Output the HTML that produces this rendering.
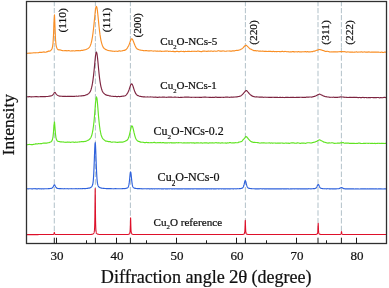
<!DOCTYPE html>
<html><head><meta charset="utf-8"><title>XRD patterns</title>
<style>
html,body{margin:0;padding:0;background:#fff;}
svg{display:block}
text{font-family:"Liberation Serif",serif;fill:#111;stroke:#111;stroke-width:0.22px}
</style></head><body>
<svg width="389" height="288" viewBox="0 0 389 288">
<rect x="0" y="0" width="389" height="288" fill="#fff"/>

<g stroke="#b6c4cc" stroke-width="1.05" fill="none">
<line x1="54.3" y1="0.9" x2="54.3" y2="47.3" stroke-dasharray="5.3 1.7"/>
<line x1="54.3" y1="47.5" x2="54.3" y2="234" stroke-dasharray="5.5 2.25"/>
<line x1="95.4" y1="0.9" x2="95.4" y2="47.3" stroke-dasharray="5.3 1.7"/>
<line x1="95.4" y1="47.5" x2="95.4" y2="234" stroke-dasharray="5.5 2.25"/>
<line x1="130.4" y1="0.9" x2="130.4" y2="47.3" stroke-dasharray="5.3 1.7"/>
<line x1="130.4" y1="47.5" x2="130.4" y2="234" stroke-dasharray="5.5 2.25"/>
<line x1="245.4" y1="0.9" x2="245.4" y2="47.3" stroke-dasharray="5.3 1.7"/>
<line x1="245.4" y1="47.5" x2="245.4" y2="234" stroke-dasharray="5.5 2.25"/>
<line x1="318.0" y1="0.9" x2="318.0" y2="47.3" stroke-dasharray="5.3 1.7"/>
<line x1="318.0" y1="47.5" x2="318.0" y2="234" stroke-dasharray="5.5 2.25"/>
<line x1="341.4" y1="0.9" x2="341.4" y2="47.3" stroke-dasharray="5.3 1.7"/>
<line x1="341.4" y1="47.5" x2="341.4" y2="234" stroke-dasharray="5.5 2.25"/>
</g>
<path d="M26.50,53.41 L27.00,53.38 L27.50,53.26 L28.00,53.21 L28.50,53.17 L29.00,53.11 L29.50,53.01 L30.00,53.06 L30.50,53.08 L31.00,53.13 L31.50,53.01 L32.00,52.98 L32.50,52.97 L33.00,52.94 L33.50,52.76 L34.00,52.79 L34.50,52.79 L35.00,52.89 L35.50,52.70 L36.00,52.78 L36.50,52.74 L37.00,52.80 L37.50,52.79 L38.00,52.75 L38.50,52.63 L39.00,52.42 L39.50,52.22 L40.00,52.37 L40.50,52.33 L41.00,52.41 L41.50,52.38 L42.00,52.25 L42.50,52.30 L43.00,52.03 L43.50,52.06 L44.00,51.89 L44.50,52.10 L45.00,52.24 L45.50,52.23 L46.00,52.10 L46.50,51.87 L47.00,51.84 L47.50,51.62 L48.00,51.39 L48.50,51.08 L49.00,51.01 L49.50,51.12 L50.00,51.05 L50.50,50.68 L51.00,50.25 L51.50,49.65 L52.00,48.77 L52.50,46.97 L53.00,43.34 L53.50,35.33 L54.00,21.47 L54.50,14.94 L55.00,27.34 L55.50,39.14 L56.00,44.84 L56.50,47.21 L57.00,48.30 L57.50,49.11 L58.00,49.62 L58.50,49.82 L59.00,49.76 L59.50,49.81 L60.00,49.92 L60.50,50.02 L61.00,50.30 L61.50,50.37 L62.00,50.52 L62.50,50.56 L63.00,50.74 L63.50,50.75 L64.00,50.70 L64.50,50.67 L65.00,50.70 L65.50,50.56 L66.00,50.58 L66.50,50.68 L67.00,50.86 L67.50,50.76 L68.00,50.69 L68.50,50.63 L69.00,50.68 L69.50,50.81 L70.00,50.97 L70.50,51.05 L71.00,51.00 L71.50,50.94 L72.00,50.90 L72.50,50.85 L73.00,50.75 L73.50,50.75 L74.00,50.92 L74.50,51.04 L75.00,51.01 L75.50,50.79 L76.00,50.65 L76.50,50.69 L77.00,50.73 L77.50,50.67 L78.00,50.65 L78.50,50.56 L79.00,50.74 L79.50,50.68 L80.00,50.82 L80.50,50.63 L81.00,50.55 L81.50,50.39 L82.00,50.44 L82.50,50.44 L83.00,50.25 L83.50,50.09 L84.00,49.95 L84.50,49.90 L85.00,49.71 L85.50,49.69 L86.00,49.53 L86.50,49.32 L87.00,49.01 L87.50,48.78 L88.00,48.51 L88.50,48.13 L89.00,47.66 L89.50,47.06 L90.00,46.25 L90.50,45.17 L91.00,43.70 L91.50,41.80 L92.00,39.43 L92.50,36.61 L93.00,33.04 L93.50,28.79 L94.00,24.07 L94.50,18.99 L95.00,13.97 L95.50,9.65 L96.00,6.84 L96.50,6.32 L97.00,7.90 L97.50,11.44 L98.00,16.03 L98.50,21.15 L99.00,26.19 L99.50,30.74 L100.00,34.68 L100.50,37.87 L101.00,40.60 L101.50,42.60 L102.00,44.36 L102.50,45.68 L103.00,46.88 L103.50,47.78 L104.00,48.20 L104.50,48.65 L105.00,49.00 L105.50,49.51 L106.00,49.66 L106.50,49.83 L107.00,50.10 L107.50,50.24 L108.00,50.40 L108.50,50.49 L109.00,50.67 L109.50,50.80 L110.00,50.73 L110.50,50.82 L111.00,50.80 L111.50,50.97 L112.00,51.09 L112.50,51.25 L113.00,51.19 L113.50,51.20 L114.00,51.21 L114.50,51.33 L115.00,51.25 L115.50,51.22 L116.00,51.14 L116.50,51.26 L117.00,51.22 L117.50,51.34 L118.00,51.30 L118.50,51.11 L119.00,50.89 L119.50,50.90 L120.00,50.99 L120.50,51.13 L121.00,51.05 L121.50,50.96 L122.00,50.90 L122.50,50.74 L123.00,50.56 L123.50,50.54 L124.00,50.33 L124.50,50.38 L125.00,50.11 L125.50,50.01 L126.00,49.52 L126.50,49.10 L127.00,48.44 L127.50,47.78 L128.00,46.82 L128.50,45.95 L129.00,44.87 L129.50,43.62 L130.00,42.12 L130.50,40.72 L131.00,39.45 L131.50,38.78 L132.00,38.75 L132.50,39.35 L133.00,40.43 L133.50,41.64 L134.00,42.99 L134.50,44.29 L135.00,45.51 L135.50,46.63 L136.00,47.50 L136.50,48.33 L137.00,48.81 L137.50,49.19 L138.00,49.28 L138.50,49.53 L139.00,49.77 L139.50,49.92 L140.00,50.01 L140.50,50.11 L141.00,50.24 L141.50,50.28 L142.00,50.37 L142.50,50.44 L143.00,50.56 L143.50,50.63 L144.00,50.75 L144.50,50.73 L145.00,50.64 L145.50,50.61 L146.00,50.65 L146.50,50.58 L147.00,50.68 L147.50,50.72 L148.00,50.94 L148.50,50.78 L149.00,50.89 L149.50,50.81 L150.00,50.91 L150.50,50.73 L151.00,50.78 L151.50,50.79 L152.00,50.90 L152.50,50.96 L153.00,50.99 L153.50,51.10 L154.00,51.04 L154.50,50.98 L155.00,50.92 L155.50,51.01 L156.00,51.19 L156.50,51.27 L157.00,51.10 L157.50,51.05 L158.00,51.11 L158.50,51.26 L159.00,51.20 L159.50,51.13 L160.00,51.10 L160.50,51.19 L161.00,51.18 L161.50,51.33 L162.00,51.33 L162.50,51.29 L163.00,51.24 L163.50,51.29 L164.00,51.31 L164.50,51.24 L165.00,51.01 L165.50,51.13 L166.00,51.12 L166.50,51.15 L167.00,50.96 L167.50,50.99 L168.00,51.22 L168.50,51.35 L169.00,51.42 L169.50,51.29 L170.00,51.20 L170.50,51.24 L171.00,51.37 L171.50,51.48 L172.00,51.52 L172.50,51.42 L173.00,51.40 L173.50,51.38 L174.00,51.60 L174.50,51.64 L175.00,51.70 L175.50,51.53 L176.00,51.56 L176.50,51.43 L177.00,51.36 L177.50,51.37 L178.00,51.46 L178.50,51.57 L179.00,51.56 L179.50,51.60 L180.00,51.53 L180.50,51.42 L181.00,51.26 L181.50,51.26 L182.00,51.47 L182.50,51.53 L183.00,51.55 L183.50,51.40 L184.00,51.59 L184.50,51.60 L185.00,51.59 L185.50,51.39 L186.00,51.48 L186.50,51.55 L187.00,51.46 L187.50,51.32 L188.00,51.34 L188.50,51.40 L189.00,51.36 L189.50,51.40 L190.00,51.45 L190.50,51.55 L191.00,51.44 L191.50,51.40 L192.00,51.36 L192.50,51.27 L193.00,51.27 L193.50,51.21 L194.00,51.34 L194.50,51.20 L195.00,51.30 L195.50,51.25 L196.00,51.49 L196.50,51.41 L197.00,51.31 L197.50,51.12 L198.00,51.11 L198.50,51.17 L199.00,51.25 L199.50,51.38 L200.00,51.55 L200.50,51.45 L201.00,51.59 L201.50,51.61 L202.00,51.64 L202.50,51.27 L203.00,51.11 L203.50,51.12 L204.00,51.12 L204.50,51.12 L205.00,51.10 L205.50,51.20 L206.00,51.24 L206.50,51.33 L207.00,51.34 L207.50,51.31 L208.00,51.18 L208.50,51.15 L209.00,51.13 L209.50,51.21 L210.00,51.22 L210.50,51.05 L211.00,51.05 L211.50,50.96 L212.00,51.13 L212.50,51.21 L213.00,51.33 L213.50,51.22 L214.00,50.97 L214.50,51.05 L215.00,51.14 L215.50,51.28 L216.00,51.25 L216.50,51.24 L217.00,51.17 L217.50,51.03 L218.00,50.79 L218.50,50.69 L219.00,50.75 L219.50,50.96 L220.00,51.10 L220.50,51.09 L221.00,51.12 L221.50,51.15 L222.00,51.09 L222.50,51.05 L223.00,50.87 L223.50,51.01 L224.00,51.03 L224.50,51.18 L225.00,51.22 L225.50,51.30 L226.00,51.25 L226.50,51.19 L227.00,51.00 L227.50,51.03 L228.00,50.97 L228.50,50.95 L229.00,51.01 L229.50,50.94 L230.00,51.10 L230.50,50.96 L231.00,51.08 L231.50,51.11 L232.00,51.06 L232.50,50.86 L233.00,50.73 L233.50,50.83 L234.00,50.89 L234.50,50.83 L235.00,50.77 L235.50,50.55 L236.00,50.51 L236.50,50.32 L237.00,50.49 L237.50,50.41 L238.00,50.35 L238.50,50.20 L239.00,50.02 L239.50,49.95 L240.00,49.74 L240.50,49.60 L241.00,49.28 L241.50,49.08 L242.00,48.73 L242.50,48.39 L243.00,47.87 L243.50,47.29 L244.00,46.74 L244.50,46.20 L245.00,45.82 L245.50,45.44 L246.00,45.27 L246.50,45.42 L247.00,45.93 L247.50,46.36 L248.00,46.88 L248.50,47.25 L249.00,47.91 L249.50,48.39 L250.00,48.93 L250.50,49.04 L251.00,49.29 L251.50,49.41 L252.00,49.83 L252.50,50.01 L253.00,50.20 L253.50,50.39 L254.00,50.69 L254.50,50.62 L255.00,50.62 L255.50,50.56 L256.00,50.83 L256.50,50.88 L257.00,50.79 L257.50,50.76 L258.00,50.87 L258.50,51.08 L259.00,51.19 L259.50,51.10 L260.00,51.05 L260.50,51.05 L261.00,51.17 L261.50,51.20 L262.00,51.19 L262.50,51.18 L263.00,51.11 L263.50,51.23 L264.00,51.32 L264.50,51.34 L265.00,51.33 L265.50,51.18 L266.00,51.36 L266.50,51.41 L267.00,51.48 L267.50,51.49 L268.00,51.40 L268.50,51.38 L269.00,51.28 L269.50,51.31 L270.00,51.35 L270.50,51.41 L271.00,51.39 L271.50,51.48 L272.00,51.56 L272.50,51.57 L273.00,51.42 L273.50,51.41 L274.00,51.54 L274.50,51.65 L275.00,51.50 L275.50,51.45 L276.00,51.58 L276.50,51.55 L277.00,51.57 L277.50,51.45 L278.00,51.53 L278.50,51.54 L279.00,51.48 L279.50,51.57 L280.00,51.64 L280.50,51.76 L281.00,51.68 L281.50,51.46 L282.00,51.35 L282.50,51.29 L283.00,51.55 L283.50,51.64 L284.00,51.71 L284.50,51.50 L285.00,51.44 L285.50,51.50 L286.00,51.51 L286.50,51.73 L287.00,51.70 L287.50,51.75 L288.00,51.65 L288.50,51.82 L289.00,51.99 L289.50,51.94 L290.00,51.85 L290.50,51.77 L291.00,51.86 L291.50,51.86 L292.00,51.79 L292.50,51.66 L293.00,51.66 L293.50,51.65 L294.00,51.85 L294.50,51.85 L295.00,51.86 L295.50,51.74 L296.00,51.71 L296.50,51.78 L297.00,51.88 L297.50,51.82 L298.00,51.69 L298.50,51.65 L299.00,51.75 L299.50,51.91 L300.00,51.92 L300.50,51.92 L301.00,51.96 L301.50,51.86 L302.00,51.87 L302.50,51.74 L303.00,51.72 L303.50,51.76 L304.00,51.86 L304.50,51.79 L305.00,51.65 L305.50,51.62 L306.00,51.84 L306.50,51.86 L307.00,51.82 L307.50,51.62 L308.00,51.84 L308.50,51.87 L309.00,52.02 L309.50,51.86 L310.00,51.87 L310.50,51.81 L311.00,51.70 L311.50,51.64 L312.00,51.55 L312.50,51.60 L313.00,51.42 L313.50,51.28 L314.00,51.13 L314.50,51.15 L315.00,51.06 L315.50,50.80 L316.00,50.52 L316.50,50.27 L317.00,50.26 L317.50,50.13 L318.00,50.06 L318.50,49.78 L319.00,49.55 L319.50,49.49 L320.00,49.62 L320.50,49.80 L321.00,49.86 L321.50,50.01 L322.00,50.14 L322.50,50.41 L323.00,50.48 L323.50,50.62 L324.00,50.78 L324.50,51.01 L325.00,51.36 L325.50,51.41 L326.00,51.48 L326.50,51.34 L327.00,51.29 L327.50,51.21 L328.00,51.38 L328.50,51.48 L329.00,51.73 L329.50,51.84 L330.00,51.93 L330.50,51.99 L331.00,51.92 L331.50,52.04 L332.00,51.92 L332.50,51.98 L333.00,51.84 L333.50,51.91 L334.00,51.81 L334.50,51.87 L335.00,51.87 L335.50,51.92 L336.00,51.92 L336.50,51.92 L337.00,51.96 L337.50,51.85 L338.00,51.81 L338.50,51.77 L339.00,51.78 L339.50,51.72 L340.00,51.51 L340.50,51.61 L341.00,51.52 L341.50,51.60 L342.00,51.61 L342.50,51.67 L343.00,51.78 L343.50,51.68 L344.00,51.71 L344.50,51.61 L345.00,51.71 L345.50,51.86 L346.00,52.01 L346.50,52.11 L347.00,51.97 L347.50,51.91 L348.00,51.82 L348.50,51.95 L349.00,52.05 L349.50,52.09 L350.00,52.10 L350.50,52.07 L351.00,52.08 L351.50,52.13 L352.00,52.10 L352.50,52.12 L353.00,52.15 L353.50,52.21 L354.00,52.25 L354.50,52.09 L355.00,52.23 L355.50,52.01 L356.00,51.97 L356.50,51.75 L357.00,52.04 L357.50,52.16 L358.00,52.22 L358.50,52.00 L359.00,52.01 L359.50,52.04 L360.00,52.08 L360.50,51.95 L361.00,51.86 L361.50,51.93 L362.00,52.06 L362.50,52.16 L363.00,52.13 L363.50,51.98 L364.00,51.98 L364.50,51.91 L365.00,52.05 L365.50,52.08 L366.00,52.11 L366.50,52.03 L367.00,52.07 L367.50,52.15 L368.00,52.18 L368.50,51.89 L369.00,51.86 L369.50,51.95 L370.00,52.26 L370.50,52.22 L371.00,52.12 L371.50,52.01 L372.00,52.12 L372.50,52.09 L373.00,52.11 L373.50,51.98 L374.00,52.09 L374.50,51.98 L375.00,52.08 L375.50,52.03 L376.00,52.13 L376.50,52.14 L377.00,52.27 L377.50,52.16 L378.00,52.19 L378.50,52.15 L379.00,52.26 L379.50,52.29 L380.00,52.26 L380.50,52.38 L381.00,52.24 L381.50,52.16 L382.00,52.15 L382.50,52.36 L383.00,52.48 L383.50,52.45 L384.00,52.26 L384.50,52.11 L385.00,52.03 L385.50,52.18 L386.00,52.14 L386.50,52.12" fill="none" stroke="#f98f26" stroke-width="1.15" stroke-linejoin="round"/>
<path d="M26.50,96.81 L27.00,96.79 L27.50,96.80 L28.00,96.85 L28.50,96.81 L29.00,96.68 L29.50,96.59 L30.00,96.68 L30.50,96.70 L31.00,96.84 L31.50,96.84 L32.00,96.84 L32.50,96.76 L33.00,96.75 L33.50,96.78 L34.00,96.81 L34.50,96.69 L35.00,96.72 L35.50,96.67 L36.00,96.63 L36.50,96.55 L37.00,96.61 L37.50,96.80 L38.00,96.81 L38.50,96.72 L39.00,96.71 L39.50,96.73 L40.00,96.77 L40.50,96.62 L41.00,96.55 L41.50,96.63 L42.00,96.65 L42.50,96.66 L43.00,96.56 L43.50,96.63 L44.00,96.62 L44.50,96.66 L45.00,96.58 L45.50,96.60 L46.00,96.51 L46.50,96.51 L47.00,96.54 L47.50,96.55 L48.00,96.44 L48.50,96.26 L49.00,96.22 L49.50,96.19 L50.00,96.16 L50.50,96.05 L51.00,95.85 L51.50,95.71 L52.00,95.46 L52.50,95.17 L53.00,94.64 L53.50,94.00 L54.00,93.21 L54.50,92.52 L55.00,92.45 L55.50,92.97 L56.00,93.76 L56.50,94.33 L57.00,94.87 L57.50,95.23 L58.00,95.54 L58.50,95.74 L59.00,95.93 L59.50,96.10 L60.00,96.16 L60.50,96.21 L61.00,96.19 L61.50,96.20 L62.00,96.28 L62.50,96.32 L63.00,96.35 L63.50,96.38 L64.00,96.40 L64.50,96.41 L65.00,96.31 L65.50,96.33 L66.00,96.37 L66.50,96.45 L67.00,96.41 L67.50,96.37 L68.00,96.36 L68.50,96.39 L69.00,96.42 L69.50,96.42 L70.00,96.39 L70.50,96.41 L71.00,96.42 L71.50,96.40 L72.00,96.41 L72.50,96.43 L73.00,96.49 L73.50,96.44 L74.00,96.39 L74.50,96.28 L75.00,96.31 L75.50,96.20 L76.00,96.22 L76.50,96.15 L77.00,96.26 L77.50,96.25 L78.00,96.20 L78.50,96.06 L79.00,95.99 L79.50,96.00 L80.00,96.03 L80.50,96.01 L81.00,95.92 L81.50,95.85 L82.00,95.84 L82.50,95.75 L83.00,95.68 L83.50,95.62 L84.00,95.59 L84.50,95.46 L85.00,95.28 L85.50,95.08 L86.00,94.93 L86.50,94.78 L87.00,94.68 L87.50,94.33 L88.00,93.98 L88.50,93.61 L89.00,93.21 L89.50,92.61 L90.00,91.86 L90.50,90.91 L91.00,89.68 L91.50,87.98 L92.00,85.82 L92.50,83.13 L93.00,79.79 L93.50,75.89 L94.00,71.27 L94.50,66.12 L95.00,60.76 L95.50,55.98 L96.00,52.79 L96.50,52.06 L97.00,53.80 L97.50,57.65 L98.00,62.56 L98.50,67.99 L99.00,73.08 L99.50,77.60 L100.00,81.30 L100.50,84.35 L101.00,86.79 L101.50,88.71 L102.00,90.19 L102.50,91.42 L103.00,92.31 L103.50,92.97 L104.00,93.41 L104.50,93.89 L105.00,94.30 L105.50,94.64 L106.00,94.87 L106.50,95.15 L107.00,95.27 L107.50,95.37 L108.00,95.36 L108.50,95.57 L109.00,95.71 L109.50,95.86 L110.00,95.89 L110.50,96.03 L111.00,96.13 L111.50,96.20 L112.00,96.29 L112.50,96.30 L113.00,96.30 L113.50,96.40 L114.00,96.46 L114.50,96.52 L115.00,96.39 L115.50,96.42 L116.00,96.50 L116.50,96.57 L117.00,96.61 L117.50,96.57 L118.00,96.46 L118.50,96.44 L119.00,96.52 L119.50,96.62 L120.00,96.58 L120.50,96.52 L121.00,96.42 L121.50,96.39 L122.00,96.24 L122.50,96.19 L123.00,96.12 L123.50,96.08 L124.00,96.01 L124.50,95.95 L125.00,95.82 L125.50,95.52 L126.00,95.06 L126.50,94.53 L127.00,93.91 L127.50,93.20 L128.00,92.31 L128.50,91.23 L129.00,89.90 L129.50,88.40 L130.00,86.84 L130.50,85.35 L131.00,84.31 L131.50,83.86 L132.00,84.08 L132.50,84.86 L133.00,86.14 L133.50,87.72 L134.00,89.36 L134.50,90.84 L135.00,92.12 L135.50,93.14 L136.00,93.97 L136.50,94.61 L137.00,95.09 L137.50,95.42 L138.00,95.60 L138.50,95.79 L139.00,96.06 L139.50,96.25 L140.00,96.34 L140.50,96.40 L141.00,96.51 L141.50,96.58 L142.00,96.66 L142.50,96.74 L143.00,96.84 L143.50,96.78 L144.00,96.81 L144.50,96.83 L145.00,96.92 L145.50,96.97 L146.00,97.03 L146.50,97.02 L147.00,97.02 L147.50,96.93 L148.00,96.97 L148.50,96.98 L149.00,97.03 L149.50,96.98 L150.00,96.95 L150.50,96.93 L151.00,96.99 L151.50,97.02 L152.00,97.04 L152.50,97.04 L153.00,97.08 L153.50,97.18 L154.00,97.23 L154.50,97.19 L155.00,97.13 L155.50,97.07 L156.00,97.11 L156.50,97.24 L157.00,97.33 L157.50,97.38 L158.00,97.34 L158.50,97.21 L159.00,97.13 L159.50,97.05 L160.00,97.19 L160.50,97.28 L161.00,97.27 L161.50,97.22 L162.00,97.17 L162.50,97.18 L163.00,97.16 L163.50,97.10 L164.00,97.17 L164.50,97.16 L165.00,97.25 L165.50,97.21 L166.00,97.29 L166.50,97.32 L167.00,97.28 L167.50,97.21 L168.00,97.16 L168.50,97.15 L169.00,97.16 L169.50,97.13 L170.00,97.19 L170.50,97.17 L171.00,97.16 L171.50,97.18 L172.00,97.30 L172.50,97.23 L173.00,97.27 L173.50,97.25 L174.00,97.29 L174.50,97.16 L175.00,97.14 L175.50,97.18 L176.00,97.25 L176.50,97.27 L177.00,97.28 L177.50,97.28 L178.00,97.27 L178.50,97.32 L179.00,97.40 L179.50,97.46 L180.00,97.43 L180.50,97.34 L181.00,97.37 L181.50,97.39 L182.00,97.42 L182.50,97.26 L183.00,97.27 L183.50,97.22 L184.00,97.25 L184.50,97.15 L185.00,97.17 L185.50,97.19 L186.00,97.18 L186.50,97.17 L187.00,97.16 L187.50,97.17 L188.00,97.16 L188.50,97.13 L189.00,97.12 L189.50,97.21 L190.00,97.20 L190.50,97.30 L191.00,97.32 L191.50,97.31 L192.00,97.28 L192.50,97.21 L193.00,97.22 L193.50,97.20 L194.00,97.21 L194.50,97.30 L195.00,97.36 L195.50,97.32 L196.00,97.27 L196.50,97.25 L197.00,97.35 L197.50,97.26 L198.00,97.30 L198.50,97.23 L199.00,97.42 L199.50,97.34 L200.00,97.31 L200.50,97.24 L201.00,97.32 L201.50,97.36 L202.00,97.24 L202.50,97.22 L203.00,97.15 L203.50,97.21 L204.00,97.13 L204.50,97.12 L205.00,97.10 L205.50,97.11 L206.00,97.17 L206.50,97.22 L207.00,97.25 L207.50,97.21 L208.00,97.21 L208.50,97.27 L209.00,97.38 L209.50,97.39 L210.00,97.38 L210.50,97.38 L211.00,97.43 L211.50,97.48 L212.00,97.42 L212.50,97.35 L213.00,97.34 L213.50,97.42 L214.00,97.51 L214.50,97.33 L215.00,97.25 L215.50,97.02 L216.00,97.16 L216.50,97.18 L217.00,97.33 L217.50,97.29 L218.00,97.34 L218.50,97.32 L219.00,97.38 L219.50,97.34 L220.00,97.37 L220.50,97.34 L221.00,97.32 L221.50,97.25 L222.00,97.26 L222.50,97.28 L223.00,97.32 L223.50,97.32 L224.00,97.32 L224.50,97.27 L225.00,97.22 L225.50,97.15 L226.00,97.16 L226.50,97.18 L227.00,97.16 L227.50,97.17 L228.00,97.16 L228.50,97.21 L229.00,97.23 L229.50,97.31 L230.00,97.26 L230.50,97.25 L231.00,97.07 L231.50,97.11 L232.00,97.13 L232.50,97.23 L233.00,97.15 L233.50,97.07 L234.00,97.04 L234.50,97.04 L235.00,97.07 L235.50,96.93 L236.00,96.95 L236.50,96.91 L237.00,96.92 L237.50,96.76 L238.00,96.63 L238.50,96.52 L239.00,96.46 L239.50,96.33 L240.00,96.14 L240.50,95.94 L241.00,95.75 L241.50,95.36 L242.00,94.92 L242.50,94.34 L243.00,93.88 L243.50,93.28 L244.00,92.72 L244.50,92.08 L245.00,91.51 L245.50,90.93 L246.00,90.62 L246.50,90.61 L247.00,90.91 L247.50,91.37 L248.00,92.02 L248.50,92.61 L249.00,93.36 L249.50,93.79 L250.00,94.37 L250.50,94.71 L251.00,95.28 L251.50,95.56 L252.00,95.96 L252.50,96.07 L253.00,96.41 L253.50,96.48 L254.00,96.67 L254.50,96.70 L255.00,96.86 L255.50,96.96 L256.00,96.90 L256.50,96.90 L257.00,96.91 L257.50,96.98 L258.00,96.99 L258.50,96.96 L259.00,97.07 L259.50,97.07 L260.00,97.11 L260.50,97.16 L261.00,97.12 L261.50,97.17 L262.00,97.13 L262.50,97.18 L263.00,97.27 L263.50,97.32 L264.00,97.29 L264.50,97.20 L265.00,97.17 L265.50,97.23 L266.00,97.25 L266.50,97.30 L267.00,97.31 L267.50,97.28 L268.00,97.30 L268.50,97.35 L269.00,97.36 L269.50,97.34 L270.00,97.30 L270.50,97.39 L271.00,97.44 L271.50,97.41 L272.00,97.36 L272.50,97.24 L273.00,97.24 L273.50,97.24 L274.00,97.34 L274.50,97.43 L275.00,97.42 L275.50,97.33 L276.00,97.31 L276.50,97.31 L277.00,97.40 L277.50,97.39 L278.00,97.43 L278.50,97.45 L279.00,97.48 L279.50,97.43 L280.00,97.44 L280.50,97.38 L281.00,97.41 L281.50,97.45 L282.00,97.49 L282.50,97.44 L283.00,97.42 L283.50,97.45 L284.00,97.56 L284.50,97.50 L285.00,97.47 L285.50,97.41 L286.00,97.37 L286.50,97.42 L287.00,97.42 L287.50,97.43 L288.00,97.33 L288.50,97.44 L289.00,97.50 L289.50,97.50 L290.00,97.42 L290.50,97.40 L291.00,97.46 L291.50,97.38 L292.00,97.40 L292.50,97.35 L293.00,97.39 L293.50,97.33 L294.00,97.38 L294.50,97.49 L295.00,97.51 L295.50,97.50 L296.00,97.38 L296.50,97.40 L297.00,97.41 L297.50,97.37 L298.00,97.32 L298.50,97.32 L299.00,97.30 L299.50,97.31 L300.00,97.30 L300.50,97.29 L301.00,97.29 L301.50,97.26 L302.00,97.37 L302.50,97.33 L303.00,97.37 L303.50,97.34 L304.00,97.44 L304.50,97.44 L305.00,97.43 L305.50,97.39 L306.00,97.24 L306.50,97.15 L307.00,97.07 L307.50,97.11 L308.00,97.20 L308.50,97.14 L309.00,97.12 L309.50,96.99 L310.00,96.97 L310.50,97.01 L311.00,97.03 L311.50,97.13 L312.00,97.05 L312.50,96.92 L313.00,96.67 L313.50,96.60 L314.00,96.49 L314.50,96.37 L315.00,96.12 L315.50,95.94 L316.00,95.72 L316.50,95.41 L317.00,95.14 L317.50,94.89 L318.00,94.67 L318.50,94.42 L319.00,94.25 L319.50,94.19 L320.00,94.27 L320.50,94.49 L321.00,94.68 L321.50,94.93 L322.00,95.11 L322.50,95.47 L323.00,95.67 L323.50,95.97 L324.00,96.07 L324.50,96.34 L325.00,96.52 L325.50,96.62 L326.00,96.70 L326.50,96.68 L327.00,96.90 L327.50,96.95 L328.00,97.02 L328.50,96.97 L329.00,97.08 L329.50,97.26 L330.00,97.38 L330.50,97.30 L331.00,97.25 L331.50,97.28 L332.00,97.30 L332.50,97.31 L333.00,97.20 L333.50,97.18 L334.00,97.26 L334.50,97.34 L335.00,97.42 L335.50,97.39 L336.00,97.40 L336.50,97.44 L337.00,97.41 L337.50,97.33 L338.00,97.19 L338.50,97.21 L339.00,97.16 L339.50,97.09 L340.00,96.97 L340.50,96.94 L341.00,97.00 L341.50,97.04 L342.00,97.03 L342.50,97.01 L343.00,97.01 L343.50,97.06 L344.00,97.15 L344.50,97.23 L345.00,97.33 L345.50,97.29 L346.00,97.24 L346.50,97.32 L347.00,97.36 L347.50,97.47 L348.00,97.45 L348.50,97.49 L349.00,97.42 L349.50,97.41 L350.00,97.39 L350.50,97.43 L351.00,97.43 L351.50,97.44 L352.00,97.45 L352.50,97.43 L353.00,97.41 L353.50,97.42 L354.00,97.40 L354.50,97.38 L355.00,97.38 L355.50,97.39 L356.00,97.45 L356.50,97.38 L357.00,97.43 L357.50,97.49 L358.00,97.62 L358.50,97.60 L359.00,97.51 L359.50,97.49 L360.00,97.43 L360.50,97.59 L361.00,97.56 L361.50,97.64 L362.00,97.47 L362.50,97.44 L363.00,97.38 L363.50,97.49 L364.00,97.57 L364.50,97.61 L365.00,97.49 L365.50,97.52 L366.00,97.47 L366.50,97.63 L367.00,97.66 L367.50,97.75 L368.00,97.72 L368.50,97.57 L369.00,97.66 L369.50,97.62 L370.00,97.73 L370.50,97.57 L371.00,97.56 L371.50,97.46 L372.00,97.49 L372.50,97.49 L373.00,97.56 L373.50,97.64 L374.00,97.66 L374.50,97.66 L375.00,97.60 L375.50,97.67 L376.00,97.63 L376.50,97.69 L377.00,97.50 L377.50,97.49 L378.00,97.46 L378.50,97.54 L379.00,97.72 L379.50,97.82 L380.00,97.76 L380.50,97.57 L381.00,97.45 L381.50,97.60 L382.00,97.70 L382.50,97.72 L383.00,97.58 L383.50,97.49 L384.00,97.35 L384.50,97.35 L385.00,97.41 L385.50,97.57 L386.00,97.58 L386.50,97.56" fill="none" stroke="#7d2440" stroke-width="1.15" stroke-linejoin="round"/>
<path d="M26.50,144.76 L27.00,144.75 L27.50,144.74 L28.00,144.62 L28.50,144.52 L29.00,144.48 L29.50,144.44 L30.00,144.52 L30.50,144.54 L31.00,144.61 L31.50,144.62 L32.00,144.63 L32.50,144.61 L33.00,144.45 L33.50,144.29 L34.00,144.31 L34.50,144.20 L35.00,144.13 L35.50,143.87 L36.00,143.89 L36.50,143.92 L37.00,144.01 L37.50,143.94 L38.00,143.74 L38.50,143.65 L39.00,143.69 L39.50,143.77 L40.00,143.70 L40.50,143.62 L41.00,143.68 L41.50,143.64 L42.00,143.45 L42.50,143.27 L43.00,143.21 L43.50,143.13 L44.00,143.17 L44.50,143.08 L45.00,143.18 L45.50,143.09 L46.00,143.07 L46.50,143.09 L47.00,142.97 L47.50,142.87 L48.00,142.70 L48.50,142.70 L49.00,142.63 L49.50,142.41 L50.00,142.22 L50.50,142.03 L51.00,141.93 L51.50,141.41 L52.00,140.67 L52.50,139.24 L53.00,136.76 L53.50,132.14 L54.00,125.09 L54.50,121.95 L55.00,127.99 L55.50,134.12 L56.00,137.80 L56.50,139.56 L57.00,140.60 L57.50,140.98 L58.00,141.35 L58.50,141.48 L59.00,141.51 L59.50,141.61 L60.00,141.75 L60.50,141.84 L61.00,141.88 L61.50,141.86 L62.00,141.97 L62.50,141.99 L63.00,141.91 L63.50,142.03 L64.00,142.14 L64.50,142.20 L65.00,142.19 L65.50,142.22 L66.00,142.33 L66.50,142.30 L67.00,142.15 L67.50,142.15 L68.00,142.18 L68.50,142.29 L69.00,142.17 L69.50,142.26 L70.00,142.19 L70.50,142.33 L71.00,142.21 L71.50,142.14 L72.00,142.05 L72.50,142.03 L73.00,142.09 L73.50,142.16 L74.00,142.29 L74.50,142.32 L75.00,142.23 L75.50,142.11 L76.00,142.12 L76.50,142.22 L77.00,142.21 L77.50,142.14 L78.00,141.99 L78.50,142.00 L79.00,142.05 L79.50,141.87 L80.00,141.84 L80.50,141.70 L81.00,141.69 L81.50,141.65 L82.00,141.63 L82.50,141.76 L83.00,141.58 L83.50,141.66 L84.00,141.56 L84.50,141.54 L85.00,141.40 L85.50,141.32 L86.00,141.26 L86.50,141.08 L87.00,140.71 L87.50,140.56 L88.00,140.21 L88.50,140.09 L89.00,139.69 L89.50,139.25 L90.00,138.73 L90.50,138.05 L91.00,137.23 L91.50,136.09 L92.00,134.37 L92.50,132.20 L93.00,129.29 L93.50,125.79 L94.00,121.54 L94.50,116.11 L95.00,109.86 L95.50,103.43 L96.00,98.68 L96.50,96.90 L97.00,98.68 L97.50,103.48 L98.00,109.60 L98.50,115.96 L99.00,121.29 L99.50,125.78 L100.00,129.41 L100.50,132.22 L101.00,134.46 L101.50,136.00 L102.00,137.29 L102.50,138.17 L103.00,138.83 L103.50,139.38 L104.00,139.75 L104.50,140.09 L105.00,140.55 L105.50,140.91 L106.00,141.17 L106.50,141.18 L107.00,141.21 L107.50,141.32 L108.00,141.40 L108.50,141.63 L109.00,141.64 L109.50,141.58 L110.00,141.55 L110.50,141.73 L111.00,142.13 L111.50,142.29 L112.00,142.22 L112.50,142.07 L113.00,141.97 L113.50,142.05 L114.00,142.03 L114.50,142.00 L115.00,142.06 L115.50,142.15 L116.00,142.26 L116.50,142.26 L117.00,142.39 L117.50,142.41 L118.00,142.35 L118.50,142.26 L119.00,142.13 L119.50,142.19 L120.00,142.06 L120.50,142.09 L121.00,142.01 L121.50,142.14 L122.00,142.10 L122.50,142.10 L123.00,141.94 L123.50,141.82 L124.00,141.72 L124.50,141.52 L125.00,141.36 L125.50,141.06 L126.00,140.82 L126.50,140.64 L127.00,140.21 L127.50,139.77 L128.00,138.93 L128.50,137.86 L129.00,136.31 L129.50,134.57 L130.00,132.42 L130.50,130.06 L131.00,127.77 L131.50,126.26 L132.00,125.78 L132.50,126.50 L133.00,128.13 L133.50,130.19 L134.00,132.44 L134.50,134.39 L135.00,136.35 L135.50,137.77 L136.00,138.97 L136.50,139.75 L137.00,140.38 L137.50,140.84 L138.00,141.17 L138.50,141.36 L139.00,141.44 L139.50,141.60 L140.00,141.87 L140.50,142.13 L141.00,142.19 L141.50,142.20 L142.00,142.17 L142.50,142.27 L143.00,142.24 L143.50,142.32 L144.00,142.47 L144.50,142.60 L145.00,142.73 L145.50,142.56 L146.00,142.49 L146.50,142.40 L147.00,142.52 L147.50,142.57 L148.00,142.66 L148.50,142.60 L149.00,142.72 L149.50,142.73 L150.00,142.70 L150.50,142.66 L151.00,142.59 L151.50,142.75 L152.00,142.68 L152.50,142.73 L153.00,142.71 L153.50,142.56 L154.00,142.42 L154.50,142.40 L155.00,142.59 L155.50,142.80 L156.00,142.81 L156.50,142.74 L157.00,142.70 L157.50,142.63 L158.00,142.71 L158.50,142.66 L159.00,142.74 L159.50,142.66 L160.00,142.63 L160.50,142.45 L161.00,142.70 L161.50,142.72 L162.00,142.82 L162.50,142.59 L163.00,142.62 L163.50,142.65 L164.00,142.78 L164.50,142.84 L165.00,142.90 L165.50,142.82 L166.00,142.80 L166.50,142.87 L167.00,142.91 L167.50,142.94 L168.00,142.72 L168.50,142.76 L169.00,142.76 L169.50,142.99 L170.00,142.77 L170.50,142.75 L171.00,142.66 L171.50,142.85 L172.00,142.81 L172.50,142.84 L173.00,142.88 L173.50,142.93 L174.00,142.90 L174.50,142.84 L175.00,142.81 L175.50,142.83 L176.00,142.80 L176.50,142.69 L177.00,142.78 L177.50,142.71 L178.00,142.85 L178.50,142.66 L179.00,142.77 L179.50,142.71 L180.00,142.80 L180.50,142.76 L181.00,142.74 L181.50,142.77 L182.00,142.92 L182.50,143.03 L183.00,143.02 L183.50,142.86 L184.00,142.83 L184.50,142.85 L185.00,142.88 L185.50,142.95 L186.00,142.92 L186.50,142.99 L187.00,142.90 L187.50,142.87 L188.00,142.86 L188.50,142.92 L189.00,142.98 L189.50,142.90 L190.00,142.82 L190.50,142.79 L191.00,142.74 L191.50,142.86 L192.00,142.89 L192.50,143.02 L193.00,142.90 L193.50,142.93 L194.00,142.91 L194.50,143.10 L195.00,143.07 L195.50,142.98 L196.00,142.90 L196.50,142.84 L197.00,142.91 L197.50,142.84 L198.00,142.87 L198.50,142.93 L199.00,143.00 L199.50,143.04 L200.00,142.97 L200.50,142.83 L201.00,142.74 L201.50,142.82 L202.00,142.97 L202.50,143.15 L203.00,143.03 L203.50,142.98 L204.00,142.84 L204.50,142.91 L205.00,142.91 L205.50,142.91 L206.00,142.92 L206.50,142.87 L207.00,142.91 L207.50,143.00 L208.00,143.16 L208.50,143.10 L209.00,142.95 L209.50,142.82 L210.00,142.80 L210.50,142.95 L211.00,142.91 L211.50,142.97 L212.00,142.81 L212.50,142.84 L213.00,142.85 L213.50,143.05 L214.00,143.02 L214.50,143.03 L215.00,142.78 L215.50,142.75 L216.00,142.67 L216.50,142.78 L217.00,142.89 L217.50,142.99 L218.00,142.91 L218.50,142.92 L219.00,142.79 L219.50,143.03 L220.00,143.01 L220.50,143.10 L221.00,142.96 L221.50,142.93 L222.00,142.92 L222.50,142.88 L223.00,142.94 L223.50,142.95 L224.00,143.05 L224.50,142.99 L225.00,143.02 L225.50,142.91 L226.00,143.15 L226.50,143.05 L227.00,143.07 L227.50,142.88 L228.00,143.01 L228.50,142.98 L229.00,142.79 L229.50,142.60 L230.00,142.58 L230.50,142.63 L231.00,142.71 L231.50,142.84 L232.00,142.95 L232.50,142.91 L233.00,142.86 L233.50,142.82 L234.00,142.94 L234.50,142.87 L235.00,142.73 L235.50,142.66 L236.00,142.74 L236.50,142.71 L237.00,142.75 L237.50,142.71 L238.00,142.66 L238.50,142.34 L239.00,142.08 L239.50,141.96 L240.00,141.96 L240.50,141.70 L241.00,141.66 L241.50,141.50 L242.00,141.20 L242.50,140.47 L243.00,139.79 L243.50,139.27 L244.00,138.83 L244.50,138.20 L245.00,137.52 L245.50,136.80 L246.00,136.56 L246.50,136.73 L247.00,137.24 L247.50,137.82 L248.00,138.46 L248.50,139.15 L249.00,139.68 L249.50,140.24 L250.00,140.62 L250.50,141.19 L251.00,141.42 L251.50,141.81 L252.00,141.86 L252.50,142.12 L253.00,142.20 L253.50,142.39 L254.00,142.40 L254.50,142.37 L255.00,142.37 L255.50,142.46 L256.00,142.51 L256.50,142.52 L257.00,142.46 L257.50,142.60 L258.00,142.65 L258.50,142.79 L259.00,142.99 L259.50,143.04 L260.00,143.09 L260.50,142.97 L261.00,142.96 L261.50,142.91 L262.00,142.94 L262.50,143.03 L263.00,142.88 L263.50,142.81 L264.00,142.73 L264.50,142.90 L265.00,143.00 L265.50,143.00 L266.00,143.10 L266.50,142.99 L267.00,143.00 L267.50,143.00 L268.00,142.99 L268.50,143.01 L269.00,142.89 L269.50,142.88 L270.00,142.95 L270.50,143.07 L271.00,143.06 L271.50,142.93 L272.00,143.07 L272.50,143.10 L273.00,143.13 L273.50,142.99 L274.00,142.98 L274.50,143.02 L275.00,143.05 L275.50,143.18 L276.00,143.19 L276.50,143.22 L277.00,143.15 L277.50,143.15 L278.00,143.06 L278.50,143.05 L279.00,143.10 L279.50,143.12 L280.00,143.09 L280.50,143.07 L281.00,143.02 L281.50,143.03 L282.00,143.01 L282.50,143.12 L283.00,143.18 L283.50,143.28 L284.00,143.32 L284.50,143.30 L285.00,143.17 L285.50,143.01 L286.00,143.03 L286.50,143.13 L287.00,143.30 L287.50,143.19 L288.00,143.19 L288.50,143.16 L289.00,143.42 L289.50,143.37 L290.00,143.29 L290.50,143.02 L291.00,142.96 L291.50,142.88 L292.00,142.92 L292.50,142.91 L293.00,142.88 L293.50,142.94 L294.00,143.03 L294.50,143.19 L295.00,143.19 L295.50,143.24 L296.00,143.26 L296.50,143.16 L297.00,143.07 L297.50,142.90 L298.00,142.94 L298.50,142.97 L299.00,143.05 L299.50,143.21 L300.00,143.34 L300.50,143.38 L301.00,143.26 L301.50,143.11 L302.00,143.07 L302.50,143.12 L303.00,143.08 L303.50,143.11 L304.00,143.05 L304.50,143.17 L305.00,143.22 L305.50,143.35 L306.00,143.25 L306.50,143.06 L307.00,142.81 L307.50,142.79 L308.00,142.77 L308.50,142.76 L309.00,142.74 L309.50,142.74 L310.00,142.88 L310.50,143.01 L311.00,143.03 L311.50,142.97 L312.00,142.67 L312.50,142.64 L313.00,142.50 L313.50,142.44 L314.00,142.19 L314.50,142.21 L315.00,142.01 L315.50,141.85 L316.00,141.51 L316.50,141.37 L317.00,141.17 L317.50,140.85 L318.00,140.45 L318.50,140.20 L319.00,140.00 L319.50,139.89 L320.00,140.02 L320.50,140.19 L321.00,140.64 L321.50,140.75 L322.00,141.02 L322.50,141.22 L323.00,141.55 L323.50,141.94 L324.00,142.07 L324.50,142.29 L325.00,142.29 L325.50,142.55 L326.00,142.65 L326.50,142.76 L327.00,142.94 L327.50,142.97 L328.00,143.12 L328.50,142.91 L329.00,142.94 L329.50,142.89 L330.00,143.01 L330.50,143.02 L331.00,142.97 L331.50,142.76 L332.00,142.76 L332.50,142.76 L333.00,142.96 L333.50,143.07 L334.00,143.29 L334.50,143.35 L335.00,143.36 L335.50,143.25 L336.00,143.26 L336.50,143.22 L337.00,143.15 L337.50,143.06 L338.00,143.02 L338.50,143.13 L339.00,143.17 L339.50,143.20 L340.00,142.93 L340.50,142.84 L341.00,142.71 L341.50,142.82 L342.00,142.73 L342.50,142.62 L343.00,142.51 L343.50,142.64 L344.00,142.99 L344.50,143.20 L345.00,143.18 L345.50,143.08 L346.00,143.06 L346.50,143.18 L347.00,143.14 L347.50,143.09 L348.00,143.05 L348.50,143.14 L349.00,143.26 L349.50,143.39 L350.00,143.28 L350.50,143.33 L351.00,143.26 L351.50,143.35 L352.00,143.37 L352.50,143.36 L353.00,143.37 L353.50,143.33 L354.00,143.39 L354.50,143.43 L355.00,143.48 L355.50,143.48 L356.00,143.39 L356.50,143.48 L357.00,143.44 L357.50,143.50 L358.00,143.28 L358.50,143.13 L359.00,143.06 L359.50,143.11 L360.00,143.30 L360.50,143.36 L361.00,143.42 L361.50,143.45 L362.00,143.52 L362.50,143.46 L363.00,143.40 L363.50,143.32 L364.00,143.26 L364.50,143.36 L365.00,143.29 L365.50,143.35 L366.00,143.26 L366.50,143.20 L367.00,143.26 L367.50,143.22 L368.00,143.39 L368.50,143.32 L369.00,143.24 L369.50,143.23 L370.00,143.27 L370.50,143.44 L371.00,143.46 L371.50,143.34 L372.00,143.35 L372.50,143.37 L373.00,143.55 L373.50,143.50 L374.00,143.40 L374.50,143.39 L375.00,143.33 L375.50,143.58 L376.00,143.53 L376.50,143.48 L377.00,143.25 L377.50,143.37 L378.00,143.41 L378.50,143.27 L379.00,143.27 L379.50,143.33 L380.00,143.47 L380.50,143.42 L381.00,143.33 L381.50,143.29 L382.00,143.31 L382.50,143.33 L383.00,143.45 L383.50,143.39 L384.00,143.48 L384.50,143.46 L385.00,143.32 L385.50,143.31 L386.00,143.27 L386.50,143.47" fill="none" stroke="#60e322" stroke-width="1.15" stroke-linejoin="round"/>
<path d="M26.50,188.72 L26.75,188.71 L27.00,188.74 L27.25,188.79 L27.50,188.78 L27.75,188.81 L28.00,188.81 L28.25,188.86 L28.50,188.82 L28.75,188.78 L29.00,188.72 L29.25,188.71 L29.50,188.76 L29.75,188.77 L30.00,188.73 L30.25,188.70 L30.50,188.70 L30.75,188.72 L31.00,188.73 L31.25,188.80 L31.50,188.83 L31.75,188.83 L32.00,188.77 L32.25,188.81 L32.50,188.85 L32.75,188.85 L33.00,188.76 L33.25,188.70 L33.50,188.69 L33.75,188.72 L34.00,188.73 L34.25,188.70 L34.50,188.70 L34.75,188.68 L35.00,188.67 L35.25,188.67 L35.50,188.75 L35.75,188.81 L36.00,188.84 L36.25,188.87 L36.50,188.88 L36.75,188.85 L37.00,188.86 L37.25,188.88 L37.50,188.92 L37.75,188.83 L38.00,188.79 L38.25,188.71 L38.50,188.72 L38.75,188.64 L39.00,188.68 L39.25,188.72 L39.50,188.79 L39.75,188.85 L40.00,188.82 L40.25,188.82 L40.50,188.77 L40.75,188.78 L41.00,188.78 L41.25,188.82 L41.50,188.85 L41.75,188.86 L42.00,188.79 L42.25,188.76 L42.50,188.79 L42.75,188.84 L43.00,188.83 L43.25,188.82 L43.50,188.83 L43.75,188.75 L44.00,188.76 L44.25,188.74 L44.50,188.83 L44.75,188.77 L45.00,188.75 L45.25,188.75 L45.50,188.72 L45.75,188.73 L46.00,188.71 L46.25,188.80 L46.50,188.79 L46.75,188.78 L47.00,188.73 L47.25,188.72 L47.50,188.73 L47.75,188.74 L48.00,188.69 L48.25,188.64 L48.50,188.60 L48.75,188.57 L49.00,188.57 L49.25,188.58 L49.50,188.56 L49.75,188.53 L50.00,188.52 L50.25,188.52 L50.50,188.53 L50.75,188.43 L51.00,188.37 L51.25,188.30 L51.50,188.31 L51.75,188.25 L52.00,188.08 L52.25,187.87 L52.50,187.65 L52.75,187.43 L53.00,187.02 L53.25,186.57 L53.50,186.13 L53.75,185.66 L54.00,185.25 L54.25,184.90 L54.50,184.87 L54.75,185.06 L55.00,185.51 L55.25,186.06 L55.50,186.53 L55.75,186.92 L56.00,187.23 L56.25,187.50 L56.50,187.78 L56.75,188.03 L57.00,188.28 L57.25,188.36 L57.50,188.43 L57.75,188.48 L58.00,188.53 L58.25,188.53 L58.50,188.52 L58.75,188.56 L59.00,188.64 L59.25,188.64 L59.50,188.62 L59.75,188.60 L60.00,188.64 L60.25,188.63 L60.50,188.59 L60.75,188.57 L61.00,188.62 L61.25,188.66 L61.50,188.72 L61.75,188.74 L62.00,188.74 L62.25,188.69 L62.50,188.73 L62.75,188.77 L63.00,188.79 L63.25,188.74 L63.50,188.76 L63.75,188.80 L64.00,188.80 L64.25,188.69 L64.50,188.66 L64.75,188.72 L65.00,188.75 L65.25,188.76 L65.50,188.71 L65.75,188.74 L66.00,188.79 L66.25,188.77 L66.50,188.75 L66.75,188.70 L67.00,188.72 L67.25,188.69 L67.50,188.72 L67.75,188.75 L68.00,188.80 L68.25,188.82 L68.50,188.81 L68.75,188.80 L69.00,188.75 L69.25,188.76 L69.50,188.75 L69.75,188.76 L70.00,188.71 L70.25,188.75 L70.50,188.76 L70.75,188.77 L71.00,188.66 L71.25,188.65 L71.50,188.71 L71.75,188.80 L72.00,188.83 L72.25,188.80 L72.50,188.79 L72.75,188.71 L73.00,188.73 L73.25,188.73 L73.50,188.76 L73.75,188.75 L74.00,188.72 L74.25,188.74 L74.50,188.79 L74.75,188.76 L75.00,188.79 L75.25,188.71 L75.50,188.72 L75.75,188.66 L76.00,188.69 L76.25,188.69 L76.50,188.73 L76.75,188.73 L77.00,188.80 L77.25,188.80 L77.50,188.79 L77.75,188.73 L78.00,188.74 L78.25,188.74 L78.50,188.69 L78.75,188.65 L79.00,188.65 L79.25,188.71 L79.50,188.74 L79.75,188.73 L80.00,188.72 L80.25,188.69 L80.50,188.69 L80.75,188.71 L81.00,188.75 L81.25,188.78 L81.50,188.72 L81.75,188.69 L82.00,188.62 L82.25,188.65 L82.50,188.63 L82.75,188.61 L83.00,188.56 L83.25,188.57 L83.50,188.54 L83.75,188.50 L84.00,188.52 L84.25,188.57 L84.50,188.60 L84.75,188.51 L85.00,188.55 L85.25,188.56 L85.50,188.62 L85.75,188.52 L86.00,188.49 L86.25,188.49 L86.50,188.49 L86.75,188.44 L87.00,188.37 L87.25,188.38 L87.50,188.35 L87.75,188.32 L88.00,188.23 L88.25,188.15 L88.50,188.14 L88.75,188.18 L89.00,188.21 L89.25,188.16 L89.50,188.03 L89.75,187.93 L90.00,187.82 L90.25,187.73 L90.50,187.67 L90.75,187.49 L91.00,187.32 L91.25,187.08 L91.50,186.88 L91.75,186.65 L92.00,186.25 L92.25,185.83 L92.50,185.16 L92.75,184.26 L93.00,182.81 L93.25,180.72 L93.50,177.67 L93.75,173.51 L94.00,168.14 L94.25,161.80 L94.50,154.87 L94.75,148.35 L95.00,143.76 L95.25,142.58 L95.50,145.31 L95.75,150.86 L96.00,157.67 L96.25,164.41 L96.50,170.36 L96.75,175.22 L97.00,178.93 L97.25,181.59 L97.50,183.43 L97.75,184.58 L98.00,185.43 L98.25,185.96 L98.50,186.42 L98.75,186.76 L99.00,187.11 L99.25,187.31 L99.50,187.40 L99.75,187.50 L100.00,187.62 L100.25,187.78 L100.50,187.82 L100.75,187.94 L101.00,188.05 L101.25,188.11 L101.50,188.11 L101.75,188.10 L102.00,188.20 L102.25,188.21 L102.50,188.27 L102.75,188.28 L103.00,188.34 L103.25,188.38 L103.50,188.36 L103.75,188.36 L104.00,188.34 L104.25,188.43 L104.50,188.48 L104.75,188.50 L105.00,188.50 L105.25,188.51 L105.50,188.53 L105.75,188.52 L106.00,188.56 L106.25,188.66 L106.50,188.65 L106.75,188.66 L107.00,188.58 L107.25,188.62 L107.50,188.66 L107.75,188.69 L108.00,188.73 L108.25,188.68 L108.50,188.63 L108.75,188.63 L109.00,188.64 L109.25,188.65 L109.50,188.67 L109.75,188.64 L110.00,188.64 L110.25,188.65 L110.50,188.69 L110.75,188.73 L111.00,188.69 L111.25,188.71 L111.50,188.68 L111.75,188.74 L112.00,188.75 L112.25,188.78 L112.50,188.79 L112.75,188.78 L113.00,188.75 L113.25,188.75 L113.50,188.75 L113.75,188.81 L114.00,188.77 L114.25,188.79 L114.50,188.73 L114.75,188.69 L115.00,188.62 L115.25,188.67 L115.50,188.65 L115.75,188.64 L116.00,188.57 L116.25,188.64 L116.50,188.70 L116.75,188.72 L117.00,188.73 L117.25,188.73 L117.50,188.79 L117.75,188.79 L118.00,188.76 L118.25,188.73 L118.50,188.70 L118.75,188.73 L119.00,188.73 L119.25,188.73 L119.50,188.73 L119.75,188.73 L120.00,188.75 L120.25,188.72 L120.50,188.71 L120.75,188.71 L121.00,188.74 L121.25,188.77 L121.50,188.76 L121.75,188.72 L122.00,188.68 L122.25,188.66 L122.50,188.61 L122.75,188.56 L123.00,188.59 L123.25,188.63 L123.50,188.57 L123.75,188.50 L124.00,188.50 L124.25,188.52 L124.50,188.57 L124.75,188.58 L125.00,188.61 L125.25,188.51 L125.50,188.46 L125.75,188.43 L126.00,188.40 L126.25,188.32 L126.50,188.24 L126.75,188.16 L127.00,188.10 L127.25,187.95 L127.50,187.81 L127.75,187.61 L128.00,187.36 L128.25,186.94 L128.50,186.28 L128.75,185.39 L129.00,184.13 L129.25,182.44 L129.50,180.30 L129.75,177.81 L130.00,175.31 L130.25,173.17 L130.50,171.97 L130.75,172.18 L131.00,173.63 L131.25,175.87 L131.50,178.36 L131.75,180.67 L132.00,182.79 L132.25,184.40 L132.50,185.68 L132.75,186.48 L133.00,187.02 L133.25,187.39 L133.50,187.63 L133.75,187.83 L134.00,187.97 L134.25,188.07 L134.50,188.21 L134.75,188.24 L135.00,188.36 L135.25,188.34 L135.50,188.38 L135.75,188.40 L136.00,188.46 L136.25,188.52 L136.50,188.53 L136.75,188.53 L137.00,188.57 L137.25,188.57 L137.50,188.61 L137.75,188.64 L138.00,188.63 L138.25,188.62 L138.50,188.58 L138.75,188.61 L139.00,188.59 L139.25,188.61 L139.50,188.65 L139.75,188.69 L140.00,188.66 L140.25,188.68 L140.50,188.71 L140.75,188.76 L141.00,188.72 L141.25,188.68 L141.50,188.74 L141.75,188.82 L142.00,188.86 L142.25,188.78 L142.50,188.77 L142.75,188.77 L143.00,188.84 L143.25,188.79 L143.50,188.80 L143.75,188.75 L144.00,188.79 L144.25,188.76 L144.50,188.80 L144.75,188.77 L145.00,188.76 L145.25,188.75 L145.50,188.77 L145.75,188.74 L146.00,188.72 L146.25,188.72 L146.50,188.79 L146.75,188.85 L147.00,188.83 L147.25,188.82 L147.50,188.72 L147.75,188.70 L148.00,188.68 L148.25,188.73 L148.50,188.76 L148.75,188.80 L149.00,188.83 L149.25,188.86 L149.50,188.84 L149.75,188.83 L150.00,188.78 L150.25,188.80 L150.50,188.80 L150.75,188.81 L151.00,188.71 L151.25,188.67 L151.50,188.76 L151.75,188.85 L152.00,188.86 L152.25,188.78 L152.50,188.82 L152.75,188.85 L153.00,188.84 L153.25,188.77 L153.50,188.75 L153.75,188.73 L154.00,188.77 L154.25,188.83 L154.50,188.89 L154.75,188.86 L155.00,188.79 L155.25,188.72 L155.50,188.75 L155.75,188.80 L156.00,188.86 L156.25,188.86 L156.50,188.81 L156.75,188.73 L157.00,188.75 L157.25,188.76 L157.50,188.88 L157.75,188.78 L158.00,188.78 L158.25,188.69 L158.50,188.76 L158.75,188.81 L159.00,188.83 L159.25,188.84 L159.50,188.78 L159.75,188.78 L160.00,188.73 L160.25,188.75 L160.50,188.75 L160.75,188.79 L161.00,188.91 L161.25,188.89 L161.50,188.87 L161.75,188.79 L162.00,188.83 L162.25,188.88 L162.50,188.83 L162.75,188.85 L163.00,188.79 L163.25,188.84 L163.50,188.82 L163.75,188.85 L164.00,188.81 L164.25,188.76 L164.50,188.72 L164.75,188.76 L165.00,188.80 L165.25,188.85 L165.50,188.80 L165.75,188.82 L166.00,188.83 L166.25,188.81 L166.50,188.80 L166.75,188.82 L167.00,188.87 L167.25,188.89 L167.50,188.83 L167.75,188.88 L168.00,188.84 L168.25,188.81 L168.50,188.78 L168.75,188.78 L169.00,188.78 L169.25,188.77 L169.50,188.81 L169.75,188.81 L170.00,188.81 L170.25,188.75 L170.50,188.78 L170.75,188.75 L171.00,188.79 L171.25,188.80 L171.50,188.90 L171.75,188.87 L172.00,188.83 L172.25,188.80 L172.50,188.81 L172.75,188.87 L173.00,188.87 L173.25,188.85 L173.50,188.78 L173.75,188.77 L174.00,188.79 L174.25,188.86 L174.50,188.87 L174.75,188.90 L175.00,188.91 L175.25,188.88 L175.50,188.81 L175.75,188.76 L176.00,188.77 L176.25,188.78 L176.50,188.82 L176.75,188.85 L177.00,188.90 L177.25,188.89 L177.50,188.86 L177.75,188.84 L178.00,188.80 L178.25,188.82 L178.50,188.79 L178.75,188.85 L179.00,188.77 L179.25,188.81 L179.50,188.80 L179.75,188.88 L180.00,188.87 L180.25,188.85 L180.50,188.89 L180.75,188.92 L181.00,188.92 L181.25,188.93 L181.50,188.86 L181.75,188.87 L182.00,188.84 L182.25,188.82 L182.50,188.82 L182.75,188.79 L183.00,188.85 L183.25,188.81 L183.50,188.78 L183.75,188.72 L184.00,188.75 L184.25,188.81 L184.50,188.85 L184.75,188.83 L185.00,188.84 L185.25,188.82 L185.50,188.84 L185.75,188.84 L186.00,188.85 L186.25,188.80 L186.50,188.80 L186.75,188.80 L187.00,188.84 L187.25,188.86 L187.50,188.84 L187.75,188.87 L188.00,188.84 L188.25,188.93 L188.50,188.86 L188.75,188.86 L189.00,188.80 L189.25,188.88 L189.50,188.87 L189.75,188.84 L190.00,188.85 L190.25,188.85 L190.50,188.87 L190.75,188.83 L191.00,188.85 L191.25,188.81 L191.50,188.79 L191.75,188.78 L192.00,188.82 L192.25,188.87 L192.50,188.89 L192.75,188.90 L193.00,188.87 L193.25,188.89 L193.50,188.85 L193.75,188.85 L194.00,188.77 L194.25,188.76 L194.50,188.79 L194.75,188.83 L195.00,188.81 L195.25,188.78 L195.50,188.78 L195.75,188.80 L196.00,188.81 L196.25,188.81 L196.50,188.84 L196.75,188.86 L197.00,188.85 L197.25,188.88 L197.50,188.84 L197.75,188.85 L198.00,188.86 L198.25,188.88 L198.50,188.87 L198.75,188.83 L199.00,188.83 L199.25,188.80 L199.50,188.82 L199.75,188.82 L200.00,188.82 L200.25,188.77 L200.50,188.80 L200.75,188.80 L201.00,188.89 L201.25,188.83 L201.50,188.88 L201.75,188.74 L202.00,188.77 L202.25,188.75 L202.50,188.84 L202.75,188.84 L203.00,188.85 L203.25,188.90 L203.50,188.91 L203.75,188.90 L204.00,188.85 L204.25,188.74 L204.50,188.75 L204.75,188.77 L205.00,188.84 L205.25,188.86 L205.50,188.79 L205.75,188.83 L206.00,188.83 L206.25,188.86 L206.50,188.87 L206.75,188.91 L207.00,188.93 L207.25,188.86 L207.50,188.82 L207.75,188.81 L208.00,188.82 L208.25,188.76 L208.50,188.74 L208.75,188.77 L209.00,188.81 L209.25,188.80 L209.50,188.82 L209.75,188.83 L210.00,188.84 L210.25,188.85 L210.50,188.82 L210.75,188.78 L211.00,188.77 L211.25,188.82 L211.50,188.94 L211.75,188.88 L212.00,188.84 L212.25,188.73 L212.50,188.80 L212.75,188.79 L213.00,188.82 L213.25,188.84 L213.50,188.85 L213.75,188.84 L214.00,188.86 L214.25,188.91 L214.50,188.86 L214.75,188.87 L215.00,188.83 L215.25,188.88 L215.50,188.81 L215.75,188.82 L216.00,188.79 L216.25,188.82 L216.50,188.81 L216.75,188.79 L217.00,188.76 L217.25,188.78 L217.50,188.76 L217.75,188.80 L218.00,188.78 L218.25,188.86 L218.50,188.87 L218.75,188.90 L219.00,188.90 L219.25,188.85 L219.50,188.82 L219.75,188.75 L220.00,188.75 L220.25,188.76 L220.50,188.74 L220.75,188.76 L221.00,188.82 L221.25,188.90 L221.50,188.92 L221.75,188.87 L222.00,188.83 L222.25,188.80 L222.50,188.79 L222.75,188.79 L223.00,188.82 L223.25,188.83 L223.50,188.85 L223.75,188.82 L224.00,188.81 L224.25,188.85 L224.50,188.89 L224.75,188.88 L225.00,188.82 L225.25,188.82 L225.50,188.90 L225.75,188.92 L226.00,188.85 L226.25,188.75 L226.50,188.77 L226.75,188.79 L227.00,188.82 L227.25,188.85 L227.50,188.82 L227.75,188.81 L228.00,188.75 L228.25,188.81 L228.50,188.86 L228.75,188.93 L229.00,188.87 L229.25,188.87 L229.50,188.84 L229.75,188.89 L230.00,188.86 L230.25,188.85 L230.50,188.82 L230.75,188.76 L231.00,188.75 L231.25,188.75 L231.50,188.76 L231.75,188.77 L232.00,188.81 L232.25,188.83 L232.50,188.80 L232.75,188.74 L233.00,188.75 L233.25,188.83 L233.50,188.86 L233.75,188.85 L234.00,188.76 L234.25,188.77 L234.50,188.78 L234.75,188.80 L235.00,188.79 L235.25,188.75 L235.50,188.78 L235.75,188.81 L236.00,188.84 L236.25,188.83 L236.50,188.78 L236.75,188.75 L237.00,188.71 L237.25,188.69 L237.50,188.70 L237.75,188.71 L238.00,188.75 L238.25,188.75 L238.50,188.79 L238.75,188.77 L239.00,188.73 L239.25,188.67 L239.50,188.59 L239.75,188.62 L240.00,188.58 L240.25,188.59 L240.50,188.57 L240.75,188.52 L241.00,188.47 L241.25,188.37 L241.50,188.33 L241.75,188.28 L242.00,188.20 L242.25,188.12 L242.50,187.96 L242.75,187.75 L243.00,187.43 L243.25,187.04 L243.50,186.52 L243.75,185.79 L244.00,184.92 L244.25,183.91 L244.50,182.84 L244.75,181.73 L245.00,180.92 L245.25,180.57 L245.50,180.85 L245.75,181.51 L246.00,182.49 L246.25,183.53 L246.50,184.56 L246.75,185.44 L247.00,186.18 L247.25,186.80 L247.50,187.27 L247.75,187.64 L248.00,187.87 L248.25,188.04 L248.50,188.13 L248.75,188.26 L249.00,188.32 L249.25,188.42 L249.50,188.40 L249.75,188.47 L250.00,188.51 L250.25,188.56 L250.50,188.54 L250.75,188.54 L251.00,188.58 L251.25,188.63 L251.50,188.63 L251.75,188.67 L252.00,188.70 L252.25,188.72 L252.50,188.72 L252.75,188.74 L253.00,188.74 L253.25,188.74 L253.50,188.74 L253.75,188.79 L254.00,188.76 L254.25,188.78 L254.50,188.80 L254.75,188.83 L255.00,188.84 L255.25,188.82 L255.50,188.84 L255.75,188.83 L256.00,188.83 L256.25,188.81 L256.50,188.86 L256.75,188.83 L257.00,188.86 L257.25,188.78 L257.50,188.82 L257.75,188.84 L258.00,188.83 L258.25,188.87 L258.50,188.81 L258.75,188.82 L259.00,188.78 L259.25,188.78 L259.50,188.83 L259.75,188.83 L260.00,188.79 L260.25,188.72 L260.50,188.69 L260.75,188.78 L261.00,188.79 L261.25,188.79 L261.50,188.80 L261.75,188.80 L262.00,188.83 L262.25,188.78 L262.50,188.83 L262.75,188.87 L263.00,188.87 L263.25,188.78 L263.50,188.69 L263.75,188.75 L264.00,188.80 L264.25,188.88 L264.50,188.82 L264.75,188.81 L265.00,188.77 L265.25,188.84 L265.50,188.86 L265.75,188.84 L266.00,188.82 L266.25,188.82 L266.50,188.87 L266.75,188.86 L267.00,188.84 L267.25,188.82 L267.50,188.76 L267.75,188.78 L268.00,188.82 L268.25,188.90 L268.50,188.87 L268.75,188.79 L269.00,188.81 L269.25,188.83 L269.50,188.87 L269.75,188.83 L270.00,188.83 L270.25,188.84 L270.50,188.88 L270.75,188.88 L271.00,188.93 L271.25,188.90 L271.50,188.93 L271.75,188.90 L272.00,188.91 L272.25,188.93 L272.50,188.92 L272.75,188.88 L273.00,188.90 L273.25,188.88 L273.50,188.87 L273.75,188.85 L274.00,188.87 L274.25,188.90 L274.50,188.87 L274.75,188.87 L275.00,188.93 L275.25,188.92 L275.50,188.87 L275.75,188.80 L276.00,188.82 L276.25,188.85 L276.50,188.85 L276.75,188.85 L277.00,188.88 L277.25,188.89 L277.50,188.88 L277.75,188.84 L278.00,188.83 L278.25,188.81 L278.50,188.79 L278.75,188.82 L279.00,188.82 L279.25,188.85 L279.50,188.84 L279.75,188.85 L280.00,188.84 L280.25,188.82 L280.50,188.80 L280.75,188.86 L281.00,188.82 L281.25,188.84 L281.50,188.83 L281.75,188.85 L282.00,188.82 L282.25,188.77 L282.50,188.75 L282.75,188.81 L283.00,188.83 L283.25,188.85 L283.50,188.80 L283.75,188.81 L284.00,188.83 L284.25,188.82 L284.50,188.83 L284.75,188.81 L285.00,188.83 L285.25,188.82 L285.50,188.82 L285.75,188.84 L286.00,188.81 L286.25,188.91 L286.50,188.89 L286.75,188.93 L287.00,188.83 L287.25,188.81 L287.50,188.79 L287.75,188.80 L288.00,188.82 L288.25,188.83 L288.50,188.86 L288.75,188.93 L289.00,188.98 L289.25,188.96 L289.50,188.96 L289.75,188.95 L290.00,188.93 L290.25,188.86 L290.50,188.81 L290.75,188.88 L291.00,188.89 L291.25,188.89 L291.50,188.87 L291.75,188.87 L292.00,188.87 L292.25,188.85 L292.50,188.86 L292.75,188.80 L293.00,188.74 L293.25,188.76 L293.50,188.79 L293.75,188.86 L294.00,188.83 L294.25,188.88 L294.50,188.86 L294.75,188.81 L295.00,188.78 L295.25,188.74 L295.50,188.80 L295.75,188.86 L296.00,188.89 L296.25,188.88 L296.50,188.78 L296.75,188.78 L297.00,188.77 L297.25,188.82 L297.50,188.85 L297.75,188.89 L298.00,188.90 L298.25,188.89 L298.50,188.81 L298.75,188.82 L299.00,188.81 L299.25,188.81 L299.50,188.80 L299.75,188.78 L300.00,188.86 L300.25,188.86 L300.50,188.88 L300.75,188.90 L301.00,188.88 L301.25,188.87 L301.50,188.83 L301.75,188.83 L302.00,188.82 L302.25,188.83 L302.50,188.84 L302.75,188.85 L303.00,188.79 L303.25,188.81 L303.50,188.86 L303.75,188.93 L304.00,188.93 L304.25,188.94 L304.50,188.92 L304.75,188.94 L305.00,188.89 L305.25,188.85 L305.50,188.81 L305.75,188.80 L306.00,188.84 L306.25,188.89 L306.50,188.91 L306.75,188.93 L307.00,188.93 L307.25,188.97 L307.50,188.94 L307.75,188.86 L308.00,188.87 L308.25,188.83 L308.50,188.80 L308.75,188.68 L309.00,188.74 L309.25,188.75 L309.50,188.79 L309.75,188.75 L310.00,188.83 L310.25,188.79 L310.50,188.80 L310.75,188.76 L311.00,188.84 L311.25,188.82 L311.50,188.81 L311.75,188.76 L312.00,188.79 L312.25,188.80 L312.50,188.79 L312.75,188.76 L313.00,188.68 L313.25,188.67 L313.50,188.62 L313.75,188.63 L314.00,188.63 L314.25,188.69 L314.50,188.67 L314.75,188.59 L315.00,188.46 L315.25,188.40 L315.50,188.29 L315.75,188.19 L316.00,188.01 L316.25,187.78 L316.50,187.41 L316.75,186.98 L317.00,186.46 L317.25,185.89 L317.50,185.35 L317.75,184.93 L318.00,184.69 L318.25,184.56 L318.50,184.60 L318.75,184.95 L319.00,185.50 L319.25,186.14 L319.50,186.72 L319.75,187.13 L320.00,187.53 L320.25,187.80 L320.50,188.06 L320.75,188.18 L321.00,188.30 L321.25,188.39 L321.50,188.49 L321.75,188.51 L322.00,188.53 L322.25,188.54 L322.50,188.62 L322.75,188.68 L323.00,188.74 L323.25,188.75 L323.50,188.74 L323.75,188.74 L324.00,188.69 L324.25,188.71 L324.50,188.73 L324.75,188.78 L325.00,188.81 L325.25,188.74 L325.50,188.77 L325.75,188.75 L326.00,188.81 L326.25,188.81 L326.50,188.89 L326.75,188.79 L327.00,188.74 L327.25,188.66 L327.50,188.76 L327.75,188.78 L328.00,188.79 L328.25,188.74 L328.50,188.72 L328.75,188.72 L329.00,188.81 L329.25,188.83 L329.50,188.93 L329.75,188.92 L330.00,188.94 L330.25,188.88 L330.50,188.88 L330.75,188.85 L331.00,188.78 L331.25,188.80 L331.50,188.81 L331.75,188.88 L332.00,188.86 L332.25,188.83 L332.50,188.83 L332.75,188.82 L333.00,188.91 L333.25,188.89 L333.50,188.89 L333.75,188.86 L334.00,188.85 L334.25,188.89 L334.50,188.90 L334.75,188.95 L335.00,188.91 L335.25,188.92 L335.50,188.84 L335.75,188.81 L336.00,188.80 L336.25,188.82 L336.50,188.82 L336.75,188.79 L337.00,188.75 L337.25,188.76 L337.50,188.76 L337.75,188.78 L338.00,188.73 L338.25,188.75 L338.50,188.75 L338.75,188.72 L339.00,188.61 L339.25,188.49 L339.50,188.40 L339.75,188.26 L340.00,188.16 L340.25,188.07 L340.50,187.98 L340.75,187.83 L341.00,187.68 L341.25,187.56 L341.50,187.48 L341.75,187.47 L342.00,187.59 L342.25,187.80 L342.50,188.03 L342.75,188.15 L343.00,188.23 L343.25,188.38 L343.50,188.51 L343.75,188.67 L344.00,188.67 L344.25,188.69 L344.50,188.73 L344.75,188.77 L345.00,188.87 L345.25,188.86 L345.50,188.83 L345.75,188.79 L346.00,188.81 L346.25,188.83 L346.50,188.84 L346.75,188.85 L347.00,188.84 L347.25,188.82 L347.50,188.80 L347.75,188.87 L348.00,188.88 L348.25,188.85 L348.50,188.84 L348.75,188.83 L349.00,188.87 L349.25,188.86 L349.50,188.88 L349.75,188.89 L350.00,188.91 L350.25,188.88 L350.50,188.88 L350.75,188.84 L351.00,188.87 L351.25,188.86 L351.50,188.90 L351.75,188.90 L352.00,188.89 L352.25,188.82 L352.50,188.82 L352.75,188.83 L353.00,188.84 L353.25,188.84 L353.50,188.85 L353.75,188.92 L354.00,188.92 L354.25,188.97 L354.50,188.96 L354.75,188.99 L355.00,188.95 L355.25,188.92 L355.50,188.88 L355.75,188.86 L356.00,188.86 L356.25,188.89 L356.50,188.93 L356.75,188.99 L357.00,189.00 L357.25,188.99 L357.50,188.91 L357.75,188.84 L358.00,188.81 L358.25,188.83 L358.50,188.93 L358.75,189.00 L359.00,189.01 L359.25,189.00 L359.50,188.97 L359.75,188.96 L360.00,188.95 L360.25,188.93 L360.50,188.97 L360.75,188.92 L361.00,188.84 L361.25,188.80 L361.50,188.85 L361.75,188.95 L362.00,188.93 L362.25,188.92 L362.50,188.87 L362.75,188.91 L363.00,188.87 L363.25,188.86 L363.50,188.87 L363.75,188.85 L364.00,188.84 L364.25,188.84 L364.50,188.88 L364.75,188.85 L365.00,188.86 L365.25,188.83 L365.50,188.88 L365.75,188.84 L366.00,188.94 L366.25,188.95 L366.50,188.98 L366.75,188.92 L367.00,188.93 L367.25,188.87 L367.50,188.87 L367.75,188.84 L368.00,188.85 L368.25,188.86 L368.50,188.91 L368.75,188.95 L369.00,188.93 L369.25,188.92 L369.50,188.88 L369.75,188.89 L370.00,188.89 L370.25,188.92 L370.50,188.90 L370.75,188.89 L371.00,188.88 L371.25,188.88 L371.50,188.90 L371.75,188.86 L372.00,188.90 L372.25,188.89 L372.50,188.95 L372.75,188.89 L373.00,188.86 L373.25,188.84 L373.50,188.89 L373.75,188.92 L374.00,188.97 L374.25,188.95 L374.50,188.87 L374.75,188.81 L375.00,188.80 L375.25,188.87 L375.50,188.85 L375.75,188.86 L376.00,188.85 L376.25,188.88 L376.50,188.88 L376.75,188.94 L377.00,188.96 L377.25,189.02 L377.50,188.96 L377.75,188.94 L378.00,188.90 L378.25,188.88 L378.50,188.90 L378.75,188.82 L379.00,188.84 L379.25,188.83 L379.50,188.92 L379.75,188.92 L380.00,188.92 L380.25,188.86 L380.50,188.86 L380.75,188.86 L381.00,188.86 L381.25,188.92 L381.50,188.92 L381.75,188.97 L382.00,188.96 L382.25,188.98 L382.50,188.97 L382.75,188.94 L383.00,188.96 L383.25,188.96 L383.50,188.96 L383.75,188.93 L384.00,188.90 L384.25,188.87 L384.50,188.85 L384.75,188.87 L385.00,188.92 L385.25,188.91 L385.50,188.89 L385.75,188.82 L386.00,188.85 L386.25,188.90 L386.50,188.92" fill="none" stroke="#2f62dc" stroke-width="1.15" stroke-linejoin="round"/>
<path d="M26.50,234.60 L26.60,234.60 L26.70,234.60 L26.80,234.60 L26.90,234.60 L27.00,234.60 L27.10,234.60 L27.20,234.60 L27.30,234.60 L27.40,234.60 L27.50,234.60 L27.60,234.60 L27.70,234.60 L27.80,234.60 L27.90,234.60 L28.00,234.60 L28.10,234.60 L28.20,234.60 L28.30,234.60 L28.40,234.60 L28.50,234.60 L28.60,234.60 L28.70,234.60 L28.80,234.60 L28.90,234.60 L29.00,234.60 L29.10,234.60 L29.20,234.60 L29.30,234.60 L29.40,234.60 L29.50,234.60 L29.60,234.60 L29.70,234.60 L29.80,234.60 L29.90,234.60 L30.00,234.60 L30.10,234.60 L30.20,234.60 L30.30,234.60 L30.40,234.60 L30.50,234.60 L30.60,234.60 L30.70,234.60 L30.80,234.60 L30.90,234.60 L31.00,234.60 L31.10,234.60 L31.20,234.60 L31.30,234.60 L31.40,234.60 L31.50,234.60 L31.60,234.60 L31.70,234.60 L31.80,234.60 L31.90,234.60 L32.00,234.60 L32.10,234.60 L32.20,234.60 L32.30,234.60 L32.40,234.60 L32.50,234.60 L32.60,234.60 L32.70,234.60 L32.80,234.60 L32.90,234.60 L33.00,234.60 L33.10,234.60 L33.20,234.60 L33.30,234.60 L33.40,234.60 L33.50,234.60 L33.60,234.60 L33.70,234.60 L33.80,234.60 L33.90,234.60 L34.00,234.60 L34.10,234.60 L34.20,234.60 L34.30,234.60 L34.40,234.60 L34.50,234.60 L34.60,234.60 L34.70,234.60 L34.80,234.60 L34.90,234.60 L35.00,234.60 L35.10,234.60 L35.20,234.60 L35.30,234.60 L35.40,234.60 L35.50,234.60 L35.60,234.60 L35.70,234.60 L35.80,234.60 L35.90,234.60 L36.00,234.60 L36.10,234.60 L36.20,234.60 L36.30,234.60 L36.40,234.60 L36.50,234.60 L36.60,234.60 L36.70,234.60 L36.80,234.60 L36.90,234.60 L37.00,234.60 L37.10,234.60 L37.20,234.60 L37.30,234.60 L37.40,234.60 L37.50,234.60 L37.60,234.60 L37.70,234.60 L37.80,234.60 L37.90,234.60 L38.00,234.60 L38.10,234.60 L38.20,234.60 L38.30,234.60 L38.40,234.60 L38.50,234.60 L38.60,234.59 L38.70,234.59 L38.80,234.59 L38.90,234.59 L39.00,234.59 L39.10,234.59 L39.20,234.59 L39.30,234.59 L39.40,234.59 L39.50,234.59 L39.60,234.59 L39.70,234.59 L39.80,234.59 L39.90,234.59 L40.00,234.59 L40.10,234.59 L40.20,234.59 L40.30,234.59 L40.40,234.59 L40.50,234.59 L40.60,234.59 L40.70,234.59 L40.80,234.59 L40.90,234.59 L41.00,234.59 L41.10,234.59 L41.20,234.59 L41.30,234.59 L41.40,234.59 L41.50,234.59 L41.60,234.59 L41.70,234.59 L41.80,234.59 L41.90,234.59 L42.00,234.59 L42.10,234.59 L42.20,234.59 L42.30,234.59 L42.40,234.59 L42.50,234.59 L42.60,234.59 L42.70,234.59 L42.80,234.59 L42.90,234.59 L43.00,234.59 L43.10,234.59 L43.20,234.59 L43.30,234.59 L43.40,234.59 L43.50,234.59 L43.60,234.59 L43.70,234.59 L43.80,234.59 L43.90,234.59 L44.00,234.59 L44.10,234.59 L44.20,234.59 L44.30,234.59 L44.40,234.59 L44.50,234.59 L44.60,234.59 L44.70,234.59 L44.80,234.59 L44.90,234.59 L45.00,234.59 L45.10,234.59 L45.20,234.59 L45.30,234.59 L45.40,234.59 L45.50,234.59 L45.60,234.59 L45.70,234.59 L45.80,234.59 L45.90,234.59 L46.00,234.59 L46.10,234.59 L46.20,234.59 L46.30,234.59 L46.40,234.59 L46.50,234.59 L46.60,234.59 L46.70,234.59 L46.80,234.59 L46.90,234.59 L47.00,234.59 L47.10,234.59 L47.20,234.59 L47.30,234.59 L47.40,234.59 L47.50,234.59 L47.60,234.59 L47.70,234.59 L47.80,234.59 L47.90,234.59 L48.00,234.59 L48.10,234.59 L48.20,234.59 L48.30,234.59 L48.40,234.59 L48.50,234.59 L48.60,234.59 L48.70,234.59 L48.80,234.59 L48.90,234.59 L49.00,234.59 L49.10,234.59 L49.20,234.59 L49.30,234.59 L49.40,234.59 L49.50,234.59 L49.60,234.58 L49.70,234.58 L49.80,234.58 L49.90,234.58 L50.00,234.58 L50.10,234.58 L50.20,234.58 L50.30,234.58 L50.40,234.58 L50.50,234.58 L50.60,234.58 L50.70,234.58 L50.80,234.58 L50.90,234.58 L51.00,234.58 L51.10,234.58 L51.20,234.58 L51.30,234.57 L51.40,234.57 L51.50,234.57 L51.60,234.57 L51.70,234.57 L51.80,234.57 L51.90,234.56 L52.00,234.56 L52.10,234.56 L52.20,234.56 L52.30,234.55 L52.40,234.55 L52.50,234.54 L52.60,234.54 L52.70,234.53 L52.80,234.52 L52.90,234.51 L53.00,234.50 L53.10,234.49 L53.20,234.47 L53.30,234.45 L53.40,234.41 L53.50,234.37 L53.60,234.31 L53.70,234.21 L53.80,234.06 L53.90,233.83 L54.00,233.49 L54.10,233.05 L54.20,232.60 L54.30,232.39 L54.40,232.60 L54.50,233.05 L54.60,233.49 L54.70,233.83 L54.80,234.06 L54.90,234.21 L55.00,234.31 L55.10,234.37 L55.20,234.41 L55.30,234.44 L55.40,234.47 L55.50,234.49 L55.60,234.50 L55.70,234.51 L55.80,234.52 L55.90,234.53 L56.00,234.54 L56.10,234.54 L56.20,234.55 L56.30,234.55 L56.40,234.55 L56.50,234.56 L56.60,234.56 L56.70,234.56 L56.80,234.56 L56.90,234.57 L57.00,234.57 L57.10,234.57 L57.20,234.57 L57.30,234.57 L57.40,234.57 L57.50,234.57 L57.60,234.57 L57.70,234.58 L57.80,234.58 L57.90,234.58 L58.00,234.58 L58.10,234.58 L58.20,234.58 L58.30,234.58 L58.40,234.58 L58.50,234.58 L58.60,234.58 L58.70,234.58 L58.80,234.58 L58.90,234.58 L59.00,234.58 L59.10,234.58 L59.20,234.58 L59.30,234.58 L59.40,234.58 L59.50,234.58 L59.60,234.58 L59.70,234.58 L59.80,234.58 L59.90,234.58 L60.00,234.58 L60.10,234.58 L60.20,234.58 L60.30,234.58 L60.40,234.58 L60.50,234.58 L60.60,234.58 L60.70,234.58 L60.80,234.58 L60.90,234.58 L61.00,234.58 L61.10,234.58 L61.20,234.58 L61.30,234.58 L61.40,234.58 L61.50,234.58 L61.60,234.58 L61.70,234.58 L61.80,234.58 L61.90,234.58 L62.00,234.58 L62.10,234.58 L62.20,234.58 L62.30,234.58 L62.40,234.58 L62.50,234.58 L62.60,234.58 L62.70,234.58 L62.80,234.58 L62.90,234.58 L63.00,234.58 L63.10,234.58 L63.20,234.58 L63.30,234.58 L63.40,234.58 L63.50,234.58 L63.60,234.58 L63.70,234.58 L63.80,234.58 L63.90,234.58 L64.00,234.58 L64.10,234.58 L64.20,234.58 L64.30,234.58 L64.40,234.58 L64.50,234.58 L64.60,234.58 L64.70,234.58 L64.80,234.58 L64.90,234.58 L65.00,234.58 L65.10,234.58 L65.20,234.58 L65.30,234.58 L65.40,234.58 L65.50,234.58 L65.60,234.58 L65.70,234.58 L65.80,234.58 L65.90,234.58 L66.00,234.58 L66.10,234.58 L66.20,234.58 L66.30,234.58 L66.40,234.58 L66.50,234.58 L66.60,234.58 L66.70,234.58 L66.80,234.58 L66.90,234.58 L67.00,234.58 L67.10,234.58 L67.20,234.58 L67.30,234.58 L67.40,234.58 L67.50,234.58 L67.60,234.58 L67.70,234.58 L67.80,234.58 L67.90,234.58 L68.00,234.58 L68.10,234.58 L68.20,234.58 L68.30,234.58 L68.40,234.58 L68.50,234.58 L68.60,234.58 L68.70,234.58 L68.80,234.58 L68.90,234.58 L69.00,234.58 L69.10,234.58 L69.20,234.58 L69.30,234.58 L69.40,234.58 L69.50,234.58 L69.60,234.58 L69.70,234.58 L69.80,234.58 L69.90,234.58 L70.00,234.58 L70.10,234.58 L70.20,234.58 L70.30,234.58 L70.40,234.58 L70.50,234.58 L70.60,234.58 L70.70,234.58 L70.80,234.58 L70.90,234.58 L71.00,234.58 L71.10,234.58 L71.20,234.58 L71.30,234.58 L71.40,234.58 L71.50,234.58 L71.60,234.58 L71.70,234.58 L71.80,234.58 L71.90,234.58 L72.00,234.58 L72.10,234.58 L72.20,234.58 L72.30,234.58 L72.40,234.58 L72.50,234.58 L72.60,234.58 L72.70,234.58 L72.80,234.58 L72.90,234.58 L73.00,234.58 L73.10,234.58 L73.20,234.58 L73.30,234.58 L73.40,234.58 L73.50,234.58 L73.60,234.58 L73.70,234.58 L73.80,234.58 L73.90,234.58 L74.00,234.58 L74.10,234.58 L74.20,234.58 L74.30,234.58 L74.40,234.58 L74.50,234.58 L74.60,234.58 L74.70,234.58 L74.80,234.58 L74.90,234.58 L75.00,234.58 L75.10,234.58 L75.20,234.58 L75.30,234.58 L75.40,234.58 L75.50,234.58 L75.60,234.58 L75.70,234.58 L75.80,234.58 L75.90,234.58 L76.00,234.58 L76.10,234.58 L76.20,234.58 L76.30,234.58 L76.40,234.58 L76.50,234.58 L76.60,234.58 L76.70,234.58 L76.80,234.58 L76.90,234.58 L77.00,234.58 L77.10,234.58 L77.20,234.58 L77.30,234.58 L77.40,234.58 L77.50,234.58 L77.60,234.58 L77.70,234.58 L77.80,234.58 L77.90,234.58 L78.00,234.58 L78.10,234.58 L78.20,234.58 L78.30,234.58 L78.40,234.58 L78.50,234.57 L78.60,234.57 L78.70,234.57 L78.80,234.57 L78.90,234.57 L79.00,234.57 L79.10,234.57 L79.20,234.57 L79.30,234.57 L79.40,234.57 L79.50,234.57 L79.60,234.57 L79.70,234.57 L79.80,234.57 L79.90,234.57 L80.00,234.57 L80.10,234.57 L80.20,234.57 L80.30,234.57 L80.40,234.57 L80.50,234.57 L80.60,234.57 L80.70,234.57 L80.80,234.57 L80.90,234.57 L81.00,234.57 L81.10,234.57 L81.20,234.57 L81.30,234.57 L81.40,234.57 L81.50,234.57 L81.60,234.57 L81.70,234.57 L81.80,234.57 L81.90,234.57 L82.00,234.57 L82.10,234.57 L82.20,234.57 L82.30,234.57 L82.40,234.57 L82.50,234.57 L82.60,234.57 L82.70,234.57 L82.80,234.57 L82.90,234.57 L83.00,234.56 L83.10,234.56 L83.20,234.56 L83.30,234.56 L83.40,234.56 L83.50,234.56 L83.60,234.56 L83.70,234.56 L83.80,234.56 L83.90,234.56 L84.00,234.56 L84.10,234.56 L84.20,234.56 L84.30,234.56 L84.40,234.56 L84.50,234.56 L84.60,234.56 L84.70,234.56 L84.80,234.56 L84.90,234.56 L85.00,234.56 L85.10,234.56 L85.20,234.56 L85.30,234.55 L85.40,234.55 L85.50,234.55 L85.60,234.55 L85.70,234.55 L85.80,234.55 L85.90,234.55 L86.00,234.55 L86.10,234.55 L86.20,234.55 L86.30,234.55 L86.40,234.55 L86.50,234.55 L86.60,234.54 L86.70,234.54 L86.80,234.54 L86.90,234.54 L87.00,234.54 L87.10,234.54 L87.20,234.54 L87.30,234.54 L87.40,234.54 L87.50,234.54 L87.60,234.53 L87.70,234.53 L87.80,234.53 L87.90,234.53 L88.00,234.53 L88.10,234.53 L88.20,234.53 L88.30,234.52 L88.40,234.52 L88.50,234.52 L88.60,234.52 L88.70,234.52 L88.80,234.51 L88.90,234.51 L89.00,234.51 L89.10,234.51 L89.20,234.50 L89.30,234.50 L89.40,234.50 L89.50,234.50 L89.60,234.49 L89.70,234.49 L89.80,234.49 L89.90,234.48 L90.00,234.48 L90.10,234.47 L90.20,234.47 L90.30,234.47 L90.40,234.46 L90.50,234.46 L90.60,234.45 L90.70,234.44 L90.80,234.44 L90.90,234.43 L91.00,234.42 L91.10,234.42 L91.20,234.41 L91.30,234.40 L91.40,234.39 L91.50,234.38 L91.60,234.37 L91.70,234.36 L91.80,234.34 L91.90,234.33 L92.00,234.31 L92.10,234.29 L92.20,234.27 L92.30,234.25 L92.40,234.23 L92.50,234.20 L92.60,234.17 L92.70,234.14 L92.80,234.10 L92.90,234.06 L93.00,234.01 L93.10,233.96 L93.20,233.90 L93.30,233.83 L93.40,233.74 L93.50,233.64 L93.60,233.52 L93.70,233.38 L93.80,233.21 L93.90,233.00 L94.00,232.74 L94.10,232.42 L94.20,231.99 L94.30,231.43 L94.40,230.67 L94.50,229.56 L94.60,227.85 L94.70,225.10 L94.80,220.65 L94.90,213.74 L95.00,204.13 L95.10,193.68 L95.20,188.58 L95.30,193.68 L95.40,204.13 L95.50,213.74 L95.60,220.65 L95.70,225.10 L95.80,227.85 L95.90,229.56 L96.00,230.66 L96.10,231.43 L96.20,231.99 L96.30,232.41 L96.40,232.74 L96.50,233.00 L96.60,233.21 L96.70,233.38 L96.80,233.52 L96.90,233.64 L97.00,233.74 L97.10,233.82 L97.20,233.90 L97.30,233.96 L97.40,234.01 L97.50,234.06 L97.60,234.10 L97.70,234.14 L97.80,234.17 L97.90,234.20 L98.00,234.23 L98.10,234.25 L98.20,234.27 L98.30,234.29 L98.40,234.31 L98.50,234.33 L98.60,234.34 L98.70,234.35 L98.80,234.37 L98.90,234.38 L99.00,234.39 L99.10,234.40 L99.20,234.41 L99.30,234.41 L99.40,234.42 L99.50,234.43 L99.60,234.44 L99.70,234.44 L99.80,234.45 L99.90,234.45 L100.00,234.46 L100.10,234.46 L100.20,234.47 L100.30,234.47 L100.40,234.48 L100.50,234.48 L100.60,234.48 L100.70,234.49 L100.80,234.49 L100.90,234.49 L101.00,234.50 L101.10,234.50 L101.20,234.50 L101.30,234.50 L101.40,234.51 L101.50,234.51 L101.60,234.51 L101.70,234.51 L101.80,234.51 L101.90,234.52 L102.00,234.52 L102.10,234.52 L102.20,234.52 L102.30,234.52 L102.40,234.52 L102.50,234.53 L102.60,234.53 L102.70,234.53 L102.80,234.53 L102.90,234.53 L103.00,234.53 L103.10,234.53 L103.20,234.53 L103.30,234.53 L103.40,234.54 L103.50,234.54 L103.60,234.54 L103.70,234.54 L103.80,234.54 L103.90,234.54 L104.00,234.54 L104.10,234.54 L104.20,234.54 L104.30,234.54 L104.40,234.54 L104.50,234.54 L104.60,234.55 L104.70,234.55 L104.80,234.55 L104.90,234.55 L105.00,234.55 L105.10,234.55 L105.20,234.55 L105.30,234.55 L105.40,234.55 L105.50,234.55 L105.60,234.55 L105.70,234.55 L105.80,234.55 L105.90,234.55 L106.00,234.55 L106.10,234.55 L106.20,234.55 L106.30,234.55 L106.40,234.55 L106.50,234.55 L106.60,234.55 L106.70,234.55 L106.80,234.56 L106.90,234.56 L107.00,234.56 L107.10,234.56 L107.20,234.56 L107.30,234.56 L107.40,234.56 L107.50,234.56 L107.60,234.56 L107.70,234.56 L107.80,234.56 L107.90,234.56 L108.00,234.56 L108.10,234.56 L108.20,234.56 L108.30,234.56 L108.40,234.56 L108.50,234.56 L108.60,234.56 L108.70,234.56 L108.80,234.56 L108.90,234.56 L109.00,234.56 L109.10,234.56 L109.20,234.56 L109.30,234.56 L109.40,234.56 L109.50,234.56 L109.60,234.56 L109.70,234.56 L109.80,234.56 L109.90,234.56 L110.00,234.56 L110.10,234.56 L110.20,234.56 L110.30,234.56 L110.40,234.56 L110.50,234.56 L110.60,234.56 L110.70,234.56 L110.80,234.56 L110.90,234.56 L111.00,234.56 L111.10,234.56 L111.20,234.56 L111.30,234.56 L111.40,234.56 L111.50,234.56 L111.60,234.56 L111.70,234.56 L111.80,234.56 L111.90,234.56 L112.00,234.56 L112.10,234.56 L112.20,234.56 L112.30,234.56 L112.40,234.56 L112.50,234.56 L112.60,234.56 L112.70,234.56 L112.80,234.56 L112.90,234.56 L113.00,234.56 L113.10,234.56 L113.20,234.56 L113.30,234.56 L113.40,234.56 L113.50,234.56 L113.60,234.56 L113.70,234.56 L113.80,234.56 L113.90,234.56 L114.00,234.56 L114.10,234.56 L114.20,234.56 L114.30,234.56 L114.40,234.56 L114.50,234.56 L114.60,234.56 L114.70,234.56 L114.80,234.56 L114.90,234.56 L115.00,234.56 L115.10,234.56 L115.20,234.56 L115.30,234.56 L115.40,234.56 L115.50,234.56 L115.60,234.56 L115.70,234.56 L115.80,234.56 L115.90,234.56 L116.00,234.56 L116.10,234.56 L116.20,234.56 L116.30,234.56 L116.40,234.56 L116.50,234.56 L116.60,234.56 L116.70,234.56 L116.80,234.56 L116.90,234.56 L117.00,234.56 L117.10,234.56 L117.20,234.56 L117.30,234.56 L117.40,234.56 L117.50,234.56 L117.60,234.56 L117.70,234.56 L117.80,234.56 L117.90,234.56 L118.00,234.56 L118.10,234.56 L118.20,234.56 L118.30,234.56 L118.40,234.56 L118.50,234.56 L118.60,234.56 L118.70,234.56 L118.80,234.56 L118.90,234.56 L119.00,234.56 L119.10,234.56 L119.20,234.56 L119.30,234.56 L119.40,234.56 L119.50,234.56 L119.60,234.56 L119.70,234.56 L119.80,234.56 L119.90,234.56 L120.00,234.56 L120.10,234.56 L120.20,234.56 L120.30,234.56 L120.40,234.56 L120.50,234.56 L120.60,234.56 L120.70,234.56 L120.80,234.56 L120.90,234.56 L121.00,234.56 L121.10,234.56 L121.20,234.56 L121.30,234.56 L121.40,234.56 L121.50,234.56 L121.60,234.56 L121.70,234.56 L121.80,234.56 L121.90,234.56 L122.00,234.56 L122.10,234.56 L122.20,234.56 L122.30,234.55 L122.40,234.55 L122.50,234.55 L122.60,234.55 L122.70,234.55 L122.80,234.55 L122.90,234.55 L123.00,234.55 L123.10,234.55 L123.20,234.55 L123.30,234.55 L123.40,234.55 L123.50,234.55 L123.60,234.55 L123.70,234.55 L123.80,234.55 L123.90,234.55 L124.00,234.55 L124.10,234.55 L124.20,234.54 L124.30,234.54 L124.40,234.54 L124.50,234.54 L124.60,234.54 L124.70,234.54 L124.80,234.54 L124.90,234.54 L125.00,234.54 L125.10,234.54 L125.20,234.53 L125.30,234.53 L125.40,234.53 L125.50,234.53 L125.60,234.53 L125.70,234.53 L125.80,234.53 L125.90,234.52 L126.00,234.52 L126.10,234.52 L126.20,234.52 L126.30,234.51 L126.40,234.51 L126.50,234.51 L126.60,234.51 L126.70,234.50 L126.80,234.50 L126.90,234.50 L127.00,234.49 L127.10,234.49 L127.20,234.48 L127.30,234.48 L127.40,234.47 L127.50,234.46 L127.60,234.46 L127.70,234.45 L127.80,234.44 L127.90,234.43 L128.00,234.42 L128.10,234.41 L128.20,234.39 L128.30,234.38 L128.40,234.36 L128.50,234.34 L128.60,234.32 L128.70,234.29 L128.80,234.26 L128.90,234.23 L129.00,234.18 L129.10,234.13 L129.20,234.07 L129.30,233.99 L129.40,233.90 L129.50,233.78 L129.60,233.62 L129.70,233.42 L129.80,233.14 L129.90,232.73 L130.00,232.11 L130.10,231.11 L130.20,229.48 L130.30,226.96 L130.40,223.45 L130.50,219.63 L130.60,217.77 L130.70,219.63 L130.80,223.45 L130.90,226.96 L131.00,229.48 L131.10,231.11 L131.20,232.11 L131.30,232.73 L131.40,233.14 L131.50,233.42 L131.60,233.62 L131.70,233.78 L131.80,233.90 L131.90,233.99 L132.00,234.07 L132.10,234.13 L132.20,234.18 L132.30,234.23 L132.40,234.26 L132.50,234.29 L132.60,234.32 L132.70,234.34 L132.80,234.36 L132.90,234.38 L133.00,234.39 L133.10,234.41 L133.20,234.42 L133.30,234.43 L133.40,234.44 L133.50,234.45 L133.60,234.46 L133.70,234.46 L133.80,234.47 L133.90,234.48 L134.00,234.48 L134.10,234.49 L134.20,234.49 L134.30,234.49 L134.40,234.50 L134.50,234.50 L134.60,234.50 L134.70,234.51 L134.80,234.51 L134.90,234.51 L135.00,234.52 L135.10,234.52 L135.20,234.52 L135.30,234.52 L135.40,234.52 L135.50,234.53 L135.60,234.53 L135.70,234.53 L135.80,234.53 L135.90,234.53 L136.00,234.53 L136.10,234.53 L136.20,234.54 L136.30,234.54 L136.40,234.54 L136.50,234.54 L136.60,234.54 L136.70,234.54 L136.80,234.54 L136.90,234.54 L137.00,234.54 L137.10,234.54 L137.20,234.54 L137.30,234.54 L137.40,234.55 L137.50,234.55 L137.60,234.55 L137.70,234.55 L137.80,234.55 L137.90,234.55 L138.00,234.55 L138.10,234.55 L138.20,234.55 L138.30,234.55 L138.40,234.55 L138.50,234.55 L138.60,234.55 L138.70,234.55 L138.80,234.55 L138.90,234.55 L139.00,234.55 L139.10,234.55 L139.20,234.55 L139.30,234.55 L139.40,234.55 L139.50,234.55 L139.60,234.55 L139.70,234.55 L139.80,234.56 L139.90,234.56 L140.00,234.56 L140.10,234.56 L140.20,234.56 L140.30,234.56 L140.40,234.56 L140.50,234.56 L140.60,234.56 L140.70,234.56 L140.80,234.56 L140.90,234.56 L141.00,234.56 L141.10,234.56 L141.20,234.56 L141.30,234.56 L141.40,234.56 L141.50,234.56 L141.60,234.56 L141.70,234.56 L141.80,234.56 L141.90,234.56 L142.00,234.56 L142.10,234.56 L142.20,234.56 L142.30,234.56 L142.40,234.56 L142.50,234.56 L142.60,234.56 L142.70,234.56 L142.80,234.56 L142.90,234.56 L143.00,234.56 L143.10,234.56 L143.20,234.56 L143.30,234.56 L143.40,234.56 L143.50,234.56 L143.60,234.56 L143.70,234.56 L143.80,234.56 L143.90,234.56 L144.00,234.56 L144.10,234.56 L144.20,234.56 L144.30,234.56 L144.40,234.56 L144.50,234.56 L144.60,234.56 L144.70,234.56 L144.80,234.56 L144.90,234.56 L145.00,234.56 L145.10,234.56 L145.20,234.56 L145.30,234.56 L145.40,234.56 L145.50,234.56 L145.60,234.56 L145.70,234.56 L145.80,234.56 L145.90,234.56 L146.00,234.56 L146.10,234.56 L146.20,234.56 L146.30,234.56 L146.40,234.56 L146.50,234.56 L146.60,234.56 L146.70,234.56 L146.80,234.56 L146.90,234.56 L147.00,234.56 L147.10,234.56 L147.20,234.56 L147.30,234.56 L147.40,234.56 L147.50,234.56 L147.60,234.56 L147.70,234.56 L147.80,234.56 L147.90,234.56 L148.00,234.56 L148.10,234.56 L148.20,234.56 L148.30,234.56 L148.40,234.56 L148.50,234.56 L148.60,234.56 L148.70,234.56 L148.80,234.56 L148.90,234.56 L149.00,234.56 L149.10,234.56 L149.20,234.56 L149.30,234.56 L149.40,234.56 L149.50,234.56 L149.60,234.56 L149.70,234.56 L149.80,234.56 L149.90,234.56 L150.00,234.56 L150.10,234.56 L150.20,234.56 L150.30,234.56 L150.40,234.56 L150.50,234.56 L150.60,234.56 L150.70,234.56 L150.80,234.56 L150.90,234.56 L151.00,234.56 L151.10,234.56 L151.20,234.56 L151.30,234.56 L151.40,234.56 L151.50,234.56 L151.60,234.56 L151.70,234.56 L151.80,234.56 L151.90,234.56 L152.00,234.56 L152.10,234.56 L152.20,234.56 L152.30,234.56 L152.40,234.56 L152.50,234.56 L152.60,234.56 L152.70,234.56 L152.80,234.56 L152.90,234.56 L153.00,234.56 L153.10,234.56 L153.20,234.56 L153.30,234.56 L153.40,234.56 L153.50,234.56 L153.60,234.56 L153.70,234.56 L153.80,234.56 L153.90,234.56 L154.00,234.56 L154.10,234.56 L154.20,234.56 L154.30,234.56 L154.40,234.56 L154.50,234.56 L154.60,234.56 L154.70,234.56 L154.80,234.56 L154.90,234.56 L155.00,234.56 L155.10,234.56 L155.20,234.56 L155.30,234.56 L155.40,234.56 L155.50,234.56 L155.60,234.56 L155.70,234.56 L155.80,234.56 L155.90,234.56 L156.00,234.56 L156.10,234.56 L156.20,234.56 L156.30,234.56 L156.40,234.56 L156.50,234.56 L156.60,234.56 L156.70,234.56 L156.80,234.56 L156.90,234.56 L157.00,234.56 L157.10,234.56 L157.20,234.56 L157.30,234.56 L157.40,234.56 L157.50,234.56 L157.60,234.56 L157.70,234.56 L157.80,234.56 L157.90,234.56 L158.00,234.56 L158.10,234.56 L158.20,234.56 L158.30,234.56 L158.40,234.56 L158.50,234.56 L158.60,234.56 L158.70,234.56 L158.80,234.56 L158.90,234.56 L159.00,234.56 L159.10,234.56 L159.20,234.56 L159.30,234.56 L159.40,234.56 L159.50,234.56 L159.60,234.56 L159.70,234.56 L159.80,234.56 L159.90,234.56 L160.00,234.56 L160.10,234.56 L160.20,234.56 L160.30,234.56 L160.40,234.56 L160.50,234.56 L160.60,234.56 L160.70,234.56 L160.80,234.56 L160.90,234.56 L161.00,234.56 L161.10,234.56 L161.20,234.56 L161.30,234.56 L161.40,234.56 L161.50,234.56 L161.60,234.56 L161.70,234.56 L161.80,234.56 L161.90,234.56 L162.00,234.56 L162.10,234.56 L162.20,234.56 L162.30,234.56 L162.40,234.56 L162.50,234.56 L162.60,234.56 L162.70,234.56 L162.80,234.56 L162.90,234.56 L163.00,234.56 L163.10,234.56 L163.20,234.56 L163.30,234.56 L163.40,234.56 L163.50,234.56 L163.60,234.56 L163.70,234.56 L163.80,234.56 L163.90,234.56 L164.00,234.56 L164.10,234.56 L164.20,234.56 L164.30,234.56 L164.40,234.56 L164.50,234.56 L164.60,234.56 L164.70,234.56 L164.80,234.56 L164.90,234.56 L165.00,234.56 L165.10,234.56 L165.20,234.56 L165.30,234.56 L165.40,234.56 L165.50,234.56 L165.60,234.56 L165.70,234.56 L165.80,234.56 L165.90,234.56 L166.00,234.56 L166.10,234.56 L166.20,234.56 L166.30,234.56 L166.40,234.56 L166.50,234.56 L166.60,234.56 L166.70,234.56 L166.80,234.56 L166.90,234.56 L167.00,234.56 L167.10,234.56 L167.20,234.56 L167.30,234.56 L167.40,234.56 L167.50,234.56 L167.60,234.56 L167.70,234.56 L167.80,234.56 L167.90,234.56 L168.00,234.56 L168.10,234.56 L168.20,234.56 L168.30,234.56 L168.40,234.56 L168.50,234.56 L168.60,234.56 L168.70,234.56 L168.80,234.56 L168.90,234.56 L169.00,234.56 L169.10,234.56 L169.20,234.56 L169.30,234.56 L169.40,234.56 L169.50,234.56 L169.60,234.56 L169.70,234.56 L169.80,234.56 L169.90,234.56 L170.00,234.56 L170.10,234.56 L170.20,234.56 L170.30,234.56 L170.40,234.56 L170.50,234.56 L170.60,234.56 L170.70,234.56 L170.80,234.56 L170.90,234.56 L171.00,234.56 L171.10,234.56 L171.20,234.56 L171.30,234.56 L171.40,234.56 L171.50,234.56 L171.60,234.56 L171.70,234.56 L171.80,234.56 L171.90,234.56 L172.00,234.56 L172.10,234.56 L172.20,234.56 L172.30,234.56 L172.40,234.56 L172.50,234.56 L172.60,234.56 L172.70,234.56 L172.80,234.56 L172.90,234.56 L173.00,234.56 L173.10,234.56 L173.20,234.56 L173.30,234.56 L173.40,234.56 L173.50,234.56 L173.60,234.56 L173.70,234.56 L173.80,234.56 L173.90,234.56 L174.00,234.56 L174.10,234.56 L174.20,234.56 L174.30,234.56 L174.40,234.56 L174.50,234.56 L174.60,234.56 L174.70,234.56 L174.80,234.56 L174.90,234.56 L175.00,234.56 L175.10,234.56 L175.20,234.56 L175.30,234.56 L175.40,234.56 L175.50,234.56 L175.60,234.56 L175.70,234.56 L175.80,234.56 L175.90,234.56 L176.00,234.56 L176.10,234.56 L176.20,234.56 L176.30,234.56 L176.40,234.56 L176.50,234.56 L176.60,234.56 L176.70,234.56 L176.80,234.56 L176.90,234.56 L177.00,234.56 L177.10,234.56 L177.20,234.56 L177.30,234.56 L177.40,234.56 L177.50,234.56 L177.60,234.56 L177.70,234.56 L177.80,234.56 L177.90,234.56 L178.00,234.56 L178.10,234.56 L178.20,234.56 L178.30,234.56 L178.40,234.56 L178.50,234.56 L178.60,234.56 L178.70,234.56 L178.80,234.56 L178.90,234.56 L179.00,234.56 L179.10,234.56 L179.20,234.56 L179.30,234.56 L179.40,234.56 L179.50,234.56 L179.60,234.56 L179.70,234.56 L179.80,234.56 L179.90,234.56 L180.00,234.56 L180.10,234.56 L180.20,234.56 L180.30,234.56 L180.40,234.56 L180.50,234.56 L180.60,234.56 L180.70,234.56 L180.80,234.56 L180.90,234.56 L181.00,234.56 L181.10,234.56 L181.20,234.56 L181.30,234.56 L181.40,234.56 L181.50,234.56 L181.60,234.56 L181.70,234.56 L181.80,234.56 L181.90,234.56 L182.00,234.56 L182.10,234.56 L182.20,234.56 L182.30,234.56 L182.40,234.56 L182.50,234.56 L182.60,234.56 L182.70,234.56 L182.80,234.56 L182.90,234.56 L183.00,234.56 L183.10,234.56 L183.20,234.56 L183.30,234.56 L183.40,234.56 L183.50,234.56 L183.60,234.56 L183.70,234.56 L183.80,234.56 L183.90,234.56 L184.00,234.56 L184.10,234.56 L184.20,234.56 L184.30,234.56 L184.40,234.56 L184.50,234.56 L184.60,234.56 L184.70,234.56 L184.80,234.56 L184.90,234.56 L185.00,234.55 L185.10,234.55 L185.20,234.55 L185.30,234.55 L185.40,234.55 L185.50,234.55 L185.60,234.55 L185.70,234.55 L185.80,234.55 L185.90,234.55 L186.00,234.55 L186.10,234.55 L186.20,234.55 L186.30,234.55 L186.40,234.55 L186.50,234.55 L186.60,234.55 L186.70,234.55 L186.80,234.55 L186.90,234.55 L187.00,234.55 L187.10,234.55 L187.20,234.55 L187.30,234.55 L187.40,234.55 L187.50,234.55 L187.60,234.55 L187.70,234.55 L187.80,234.55 L187.90,234.55 L188.00,234.55 L188.10,234.55 L188.20,234.55 L188.30,234.55 L188.40,234.55 L188.50,234.55 L188.60,234.55 L188.70,234.55 L188.80,234.55 L188.90,234.55 L189.00,234.55 L189.10,234.55 L189.20,234.55 L189.30,234.55 L189.40,234.55 L189.50,234.55 L189.60,234.55 L189.70,234.55 L189.80,234.55 L189.90,234.55 L190.00,234.55 L190.10,234.55 L190.20,234.55 L190.30,234.55 L190.40,234.55 L190.50,234.55 L190.60,234.55 L190.70,234.55 L190.80,234.55 L190.90,234.55 L191.00,234.55 L191.10,234.55 L191.20,234.55 L191.30,234.55 L191.40,234.55 L191.50,234.55 L191.60,234.55 L191.70,234.55 L191.80,234.55 L191.90,234.55 L192.00,234.55 L192.10,234.55 L192.20,234.55 L192.30,234.55 L192.40,234.55 L192.50,234.55 L192.60,234.55 L192.70,234.55 L192.80,234.55 L192.90,234.55 L193.00,234.55 L193.10,234.55 L193.20,234.55 L193.30,234.55 L193.40,234.55 L193.50,234.55 L193.60,234.55 L193.70,234.55 L193.80,234.55 L193.90,234.55 L194.00,234.55 L194.10,234.55 L194.20,234.55 L194.30,234.55 L194.40,234.55 L194.50,234.55 L194.60,234.55 L194.70,234.55 L194.80,234.55 L194.90,234.55 L195.00,234.55 L195.10,234.55 L195.20,234.55 L195.30,234.55 L195.40,234.55 L195.50,234.55 L195.60,234.55 L195.70,234.55 L195.80,234.55 L195.90,234.55 L196.00,234.55 L196.10,234.55 L196.20,234.55 L196.30,234.55 L196.40,234.55 L196.50,234.55 L196.60,234.55 L196.70,234.55 L196.80,234.55 L196.90,234.55 L197.00,234.55 L197.10,234.55 L197.20,234.55 L197.30,234.55 L197.40,234.55 L197.50,234.55 L197.60,234.55 L197.70,234.55 L197.80,234.55 L197.90,234.55 L198.00,234.55 L198.10,234.55 L198.20,234.55 L198.30,234.55 L198.40,234.55 L198.50,234.55 L198.60,234.55 L198.70,234.55 L198.80,234.55 L198.90,234.55 L199.00,234.55 L199.10,234.55 L199.20,234.55 L199.30,234.55 L199.40,234.55 L199.50,234.55 L199.60,234.55 L199.70,234.55 L199.80,234.55 L199.90,234.55 L200.00,234.55 L200.10,234.55 L200.20,234.55 L200.30,234.55 L200.40,234.55 L200.50,234.55 L200.60,234.55 L200.70,234.55 L200.80,234.55 L200.90,234.55 L201.00,234.55 L201.10,234.55 L201.20,234.55 L201.30,234.55 L201.40,234.55 L201.50,234.55 L201.60,234.55 L201.70,234.55 L201.80,234.55 L201.90,234.55 L202.00,234.55 L202.10,234.55 L202.20,234.55 L202.30,234.55 L202.40,234.55 L202.50,234.55 L202.60,234.55 L202.70,234.55 L202.80,234.55 L202.90,234.55 L203.00,234.55 L203.10,234.55 L203.20,234.55 L203.30,234.55 L203.40,234.55 L203.50,234.55 L203.60,234.55 L203.70,234.55 L203.80,234.55 L203.90,234.55 L204.00,234.55 L204.10,234.55 L204.20,234.55 L204.30,234.55 L204.40,234.55 L204.50,234.55 L204.60,234.55 L204.70,234.55 L204.80,234.55 L204.90,234.55 L205.00,234.55 L205.10,234.55 L205.20,234.55 L205.30,234.55 L205.40,234.55 L205.50,234.55 L205.60,234.55 L205.70,234.55 L205.80,234.55 L205.90,234.55 L206.00,234.55 L206.10,234.55 L206.20,234.55 L206.30,234.55 L206.40,234.55 L206.50,234.55 L206.60,234.55 L206.70,234.55 L206.80,234.55 L206.90,234.55 L207.00,234.55 L207.10,234.55 L207.20,234.55 L207.30,234.55 L207.40,234.55 L207.50,234.55 L207.60,234.55 L207.70,234.55 L207.80,234.55 L207.90,234.55 L208.00,234.55 L208.10,234.55 L208.20,234.55 L208.30,234.55 L208.40,234.55 L208.50,234.55 L208.60,234.55 L208.70,234.55 L208.80,234.55 L208.90,234.55 L209.00,234.55 L209.10,234.55 L209.20,234.55 L209.30,234.55 L209.40,234.55 L209.50,234.55 L209.60,234.55 L209.70,234.55 L209.80,234.55 L209.90,234.55 L210.00,234.55 L210.10,234.55 L210.20,234.55 L210.30,234.55 L210.40,234.55 L210.50,234.55 L210.60,234.55 L210.70,234.55 L210.80,234.55 L210.90,234.55 L211.00,234.55 L211.10,234.55 L211.20,234.55 L211.30,234.55 L211.40,234.55 L211.50,234.55 L211.60,234.55 L211.70,234.55 L211.80,234.55 L211.90,234.55 L212.00,234.55 L212.10,234.55 L212.20,234.55 L212.30,234.55 L212.40,234.55 L212.50,234.55 L212.60,234.55 L212.70,234.55 L212.80,234.55 L212.90,234.55 L213.00,234.55 L213.10,234.55 L213.20,234.55 L213.30,234.55 L213.40,234.55 L213.50,234.55 L213.60,234.55 L213.70,234.55 L213.80,234.55 L213.90,234.55 L214.00,234.55 L214.10,234.55 L214.20,234.55 L214.30,234.55 L214.40,234.55 L214.50,234.55 L214.60,234.55 L214.70,234.55 L214.80,234.55 L214.90,234.55 L215.00,234.55 L215.10,234.55 L215.20,234.55 L215.30,234.55 L215.40,234.55 L215.50,234.55 L215.60,234.55 L215.70,234.55 L215.80,234.55 L215.90,234.55 L216.00,234.55 L216.10,234.55 L216.20,234.55 L216.30,234.55 L216.40,234.55 L216.50,234.55 L216.60,234.55 L216.70,234.55 L216.80,234.55 L216.90,234.55 L217.00,234.55 L217.10,234.55 L217.20,234.55 L217.30,234.55 L217.40,234.55 L217.50,234.55 L217.60,234.55 L217.70,234.55 L217.80,234.55 L217.90,234.55 L218.00,234.55 L218.10,234.55 L218.20,234.55 L218.30,234.55 L218.40,234.55 L218.50,234.55 L218.60,234.55 L218.70,234.54 L218.80,234.54 L218.90,234.54 L219.00,234.54 L219.10,234.54 L219.20,234.54 L219.30,234.54 L219.40,234.54 L219.50,234.54 L219.60,234.54 L219.70,234.54 L219.80,234.54 L219.90,234.54 L220.00,234.54 L220.10,234.54 L220.20,234.54 L220.30,234.54 L220.40,234.54 L220.50,234.54 L220.60,234.54 L220.70,234.54 L220.80,234.54 L220.90,234.54 L221.00,234.54 L221.10,234.54 L221.20,234.54 L221.30,234.54 L221.40,234.54 L221.50,234.54 L221.60,234.54 L221.70,234.54 L221.80,234.54 L221.90,234.54 L222.00,234.54 L222.10,234.54 L222.20,234.54 L222.30,234.54 L222.40,234.54 L222.50,234.54 L222.60,234.54 L222.70,234.54 L222.80,234.54 L222.90,234.54 L223.00,234.54 L223.10,234.54 L223.20,234.54 L223.30,234.54 L223.40,234.54 L223.50,234.54 L223.60,234.54 L223.70,234.54 L223.80,234.54 L223.90,234.54 L224.00,234.54 L224.10,234.54 L224.20,234.54 L224.30,234.54 L224.40,234.54 L224.50,234.54 L224.60,234.54 L224.70,234.54 L224.80,234.54 L224.90,234.54 L225.00,234.54 L225.10,234.54 L225.20,234.54 L225.30,234.54 L225.40,234.54 L225.50,234.54 L225.60,234.54 L225.70,234.54 L225.80,234.54 L225.90,234.54 L226.00,234.54 L226.10,234.54 L226.20,234.54 L226.30,234.54 L226.40,234.54 L226.50,234.54 L226.60,234.54 L226.70,234.54 L226.80,234.54 L226.90,234.54 L227.00,234.54 L227.10,234.54 L227.20,234.54 L227.30,234.54 L227.40,234.54 L227.50,234.54 L227.60,234.54 L227.70,234.54 L227.80,234.54 L227.90,234.54 L228.00,234.54 L228.10,234.54 L228.20,234.54 L228.30,234.54 L228.40,234.54 L228.50,234.54 L228.60,234.54 L228.70,234.54 L228.80,234.54 L228.90,234.54 L229.00,234.54 L229.10,234.54 L229.20,234.54 L229.30,234.54 L229.40,234.54 L229.50,234.54 L229.60,234.54 L229.70,234.54 L229.80,234.54 L229.90,234.54 L230.00,234.54 L230.10,234.54 L230.20,234.54 L230.30,234.54 L230.40,234.54 L230.50,234.54 L230.60,234.54 L230.70,234.54 L230.80,234.54 L230.90,234.54 L231.00,234.54 L231.10,234.54 L231.20,234.54 L231.30,234.54 L231.40,234.54 L231.50,234.54 L231.60,234.54 L231.70,234.54 L231.80,234.54 L231.90,234.54 L232.00,234.54 L232.10,234.54 L232.20,234.54 L232.30,234.54 L232.40,234.54 L232.50,234.54 L232.60,234.54 L232.70,234.54 L232.80,234.54 L232.90,234.54 L233.00,234.54 L233.10,234.54 L233.20,234.54 L233.30,234.54 L233.40,234.54 L233.50,234.54 L233.60,234.54 L233.70,234.54 L233.80,234.54 L233.90,234.54 L234.00,234.54 L234.10,234.54 L234.20,234.53 L234.30,234.53 L234.40,234.53 L234.50,234.53 L234.60,234.53 L234.70,234.53 L234.80,234.53 L234.90,234.53 L235.00,234.53 L235.10,234.53 L235.20,234.53 L235.30,234.53 L235.40,234.53 L235.50,234.53 L235.60,234.53 L235.70,234.53 L235.80,234.53 L235.90,234.53 L236.00,234.53 L236.10,234.53 L236.20,234.53 L236.30,234.53 L236.40,234.53 L236.50,234.53 L236.60,234.53 L236.70,234.53 L236.80,234.53 L236.90,234.53 L237.00,234.53 L237.10,234.53 L237.20,234.53 L237.30,234.53 L237.40,234.53 L237.50,234.53 L237.60,234.53 L237.70,234.53 L237.80,234.53 L237.90,234.53 L238.00,234.52 L238.10,234.52 L238.20,234.52 L238.30,234.52 L238.40,234.52 L238.50,234.52 L238.60,234.52 L238.70,234.52 L238.80,234.52 L238.90,234.52 L239.00,234.52 L239.10,234.52 L239.20,234.52 L239.30,234.52 L239.40,234.52 L239.50,234.52 L239.60,234.51 L239.70,234.51 L239.80,234.51 L239.90,234.51 L240.00,234.51 L240.10,234.51 L240.20,234.51 L240.30,234.51 L240.40,234.50 L240.50,234.50 L240.60,234.50 L240.70,234.50 L240.80,234.50 L240.90,234.50 L241.00,234.49 L241.10,234.49 L241.20,234.49 L241.30,234.49 L241.40,234.48 L241.50,234.48 L241.60,234.48 L241.70,234.47 L241.80,234.47 L241.90,234.47 L242.00,234.46 L242.10,234.46 L242.20,234.45 L242.30,234.45 L242.40,234.44 L242.50,234.43 L242.60,234.42 L242.70,234.41 L242.80,234.40 L242.90,234.39 L243.00,234.38 L243.10,234.36 L243.20,234.35 L243.30,234.33 L243.40,234.31 L243.50,234.28 L243.60,234.25 L243.70,234.21 L243.80,234.17 L243.90,234.12 L244.00,234.05 L244.10,233.97 L244.20,233.87 L244.30,233.74 L244.40,233.57 L244.50,233.33 L244.60,232.99 L244.70,232.46 L244.80,231.61 L244.90,230.24 L245.00,228.11 L245.10,225.14 L245.20,221.91 L245.30,220.34 L245.40,221.91 L245.50,225.14 L245.60,228.11 L245.70,230.24 L245.80,231.61 L245.90,232.46 L246.00,232.99 L246.10,233.33 L246.20,233.57 L246.30,233.74 L246.40,233.87 L246.50,233.97 L246.60,234.05 L246.70,234.12 L246.80,234.17 L246.90,234.21 L247.00,234.25 L247.10,234.28 L247.20,234.31 L247.30,234.33 L247.40,234.35 L247.50,234.36 L247.60,234.38 L247.70,234.39 L247.80,234.40 L247.90,234.41 L248.00,234.42 L248.10,234.43 L248.20,234.44 L248.30,234.44 L248.40,234.45 L248.50,234.45 L248.60,234.46 L248.70,234.46 L248.80,234.47 L248.90,234.47 L249.00,234.48 L249.10,234.48 L249.20,234.48 L249.30,234.48 L249.40,234.49 L249.50,234.49 L249.60,234.49 L249.70,234.49 L249.80,234.50 L249.90,234.50 L250.00,234.50 L250.10,234.50 L250.20,234.50 L250.30,234.50 L250.40,234.50 L250.50,234.51 L250.60,234.51 L250.70,234.51 L250.80,234.51 L250.90,234.51 L251.00,234.51 L251.10,234.51 L251.20,234.51 L251.30,234.51 L251.40,234.51 L251.50,234.51 L251.60,234.52 L251.70,234.52 L251.80,234.52 L251.90,234.52 L252.00,234.52 L252.10,234.52 L252.20,234.52 L252.30,234.52 L252.40,234.52 L252.50,234.52 L252.60,234.52 L252.70,234.52 L252.80,234.52 L252.90,234.52 L253.00,234.52 L253.10,234.52 L253.20,234.52 L253.30,234.52 L253.40,234.52 L253.50,234.52 L253.60,234.52 L253.70,234.52 L253.80,234.52 L253.90,234.52 L254.00,234.53 L254.10,234.53 L254.20,234.53 L254.30,234.53 L254.40,234.53 L254.50,234.53 L254.60,234.53 L254.70,234.53 L254.80,234.53 L254.90,234.53 L255.00,234.53 L255.10,234.53 L255.20,234.53 L255.30,234.53 L255.40,234.53 L255.50,234.53 L255.60,234.53 L255.70,234.53 L255.80,234.53 L255.90,234.53 L256.00,234.53 L256.10,234.53 L256.20,234.53 L256.30,234.53 L256.40,234.53 L256.50,234.53 L256.60,234.53 L256.70,234.53 L256.80,234.53 L256.90,234.53 L257.00,234.53 L257.10,234.53 L257.20,234.53 L257.30,234.53 L257.40,234.53 L257.50,234.53 L257.60,234.53 L257.70,234.53 L257.80,234.53 L257.90,234.53 L258.00,234.53 L258.10,234.53 L258.20,234.53 L258.30,234.53 L258.40,234.53 L258.50,234.53 L258.60,234.53 L258.70,234.53 L258.80,234.53 L258.90,234.53 L259.00,234.53 L259.10,234.53 L259.20,234.53 L259.30,234.53 L259.40,234.53 L259.50,234.53 L259.60,234.53 L259.70,234.53 L259.80,234.53 L259.90,234.53 L260.00,234.53 L260.10,234.53 L260.20,234.53 L260.30,234.53 L260.40,234.53 L260.50,234.53 L260.60,234.53 L260.70,234.53 L260.80,234.53 L260.90,234.53 L261.00,234.53 L261.10,234.53 L261.20,234.53 L261.30,234.53 L261.40,234.53 L261.50,234.53 L261.60,234.53 L261.70,234.53 L261.80,234.53 L261.90,234.53 L262.00,234.53 L262.10,234.53 L262.20,234.53 L262.30,234.53 L262.40,234.53 L262.50,234.53 L262.60,234.53 L262.70,234.53 L262.80,234.53 L262.90,234.53 L263.00,234.53 L263.10,234.53 L263.20,234.53 L263.30,234.53 L263.40,234.53 L263.50,234.53 L263.60,234.53 L263.70,234.53 L263.80,234.53 L263.90,234.53 L264.00,234.53 L264.10,234.53 L264.20,234.53 L264.30,234.53 L264.40,234.53 L264.50,234.53 L264.60,234.53 L264.70,234.53 L264.80,234.53 L264.90,234.53 L265.00,234.53 L265.10,234.53 L265.20,234.53 L265.30,234.53 L265.40,234.53 L265.50,234.53 L265.60,234.53 L265.70,234.53 L265.80,234.53 L265.90,234.53 L266.00,234.53 L266.10,234.53 L266.20,234.53 L266.30,234.53 L266.40,234.53 L266.50,234.53 L266.60,234.53 L266.70,234.53 L266.80,234.53 L266.90,234.53 L267.00,234.53 L267.10,234.53 L267.20,234.53 L267.30,234.53 L267.40,234.53 L267.50,234.53 L267.60,234.53 L267.70,234.53 L267.80,234.53 L267.90,234.53 L268.00,234.53 L268.10,234.53 L268.20,234.53 L268.30,234.53 L268.40,234.53 L268.50,234.53 L268.60,234.53 L268.70,234.53 L268.80,234.53 L268.90,234.53 L269.00,234.53 L269.10,234.53 L269.20,234.53 L269.30,234.53 L269.40,234.53 L269.50,234.53 L269.60,234.53 L269.70,234.53 L269.80,234.53 L269.90,234.53 L270.00,234.53 L270.10,234.53 L270.20,234.53 L270.30,234.53 L270.40,234.53 L270.50,234.53 L270.60,234.53 L270.70,234.53 L270.80,234.53 L270.90,234.53 L271.00,234.53 L271.10,234.53 L271.20,234.53 L271.30,234.53 L271.40,234.53 L271.50,234.53 L271.60,234.53 L271.70,234.53 L271.80,234.53 L271.90,234.53 L272.00,234.53 L272.10,234.53 L272.20,234.53 L272.30,234.53 L272.40,234.53 L272.50,234.53 L272.60,234.53 L272.70,234.53 L272.80,234.53 L272.90,234.53 L273.00,234.53 L273.10,234.53 L273.20,234.53 L273.30,234.53 L273.40,234.53 L273.50,234.53 L273.60,234.53 L273.70,234.53 L273.80,234.53 L273.90,234.53 L274.00,234.53 L274.10,234.53 L274.20,234.53 L274.30,234.53 L274.40,234.53 L274.50,234.53 L274.60,234.53 L274.70,234.53 L274.80,234.53 L274.90,234.53 L275.00,234.53 L275.10,234.53 L275.20,234.53 L275.30,234.53 L275.40,234.53 L275.50,234.53 L275.60,234.53 L275.70,234.53 L275.80,234.53 L275.90,234.53 L276.00,234.53 L276.10,234.53 L276.20,234.53 L276.30,234.53 L276.40,234.53 L276.50,234.53 L276.60,234.53 L276.70,234.53 L276.80,234.53 L276.90,234.53 L277.00,234.53 L277.10,234.53 L277.20,234.53 L277.30,234.53 L277.40,234.53 L277.50,234.53 L277.60,234.53 L277.70,234.53 L277.80,234.53 L277.90,234.53 L278.00,234.53 L278.10,234.53 L278.20,234.53 L278.30,234.53 L278.40,234.53 L278.50,234.53 L278.60,234.53 L278.70,234.53 L278.80,234.53 L278.90,234.53 L279.00,234.53 L279.10,234.53 L279.20,234.53 L279.30,234.53 L279.40,234.53 L279.50,234.53 L279.60,234.53 L279.70,234.53 L279.80,234.53 L279.90,234.53 L280.00,234.53 L280.10,234.53 L280.20,234.53 L280.30,234.53 L280.40,234.53 L280.50,234.53 L280.60,234.53 L280.70,234.53 L280.80,234.53 L280.90,234.53 L281.00,234.53 L281.10,234.53 L281.20,234.53 L281.30,234.53 L281.40,234.53 L281.50,234.53 L281.60,234.53 L281.70,234.53 L281.80,234.53 L281.90,234.53 L282.00,234.53 L282.10,234.53 L282.20,234.53 L282.30,234.53 L282.40,234.53 L282.50,234.53 L282.60,234.53 L282.70,234.53 L282.80,234.53 L282.90,234.53 L283.00,234.53 L283.10,234.53 L283.20,234.53 L283.30,234.53 L283.40,234.53 L283.50,234.53 L283.60,234.53 L283.70,234.53 L283.80,234.53 L283.90,234.53 L284.00,234.53 L284.10,234.53 L284.20,234.53 L284.30,234.53 L284.40,234.53 L284.50,234.53 L284.60,234.53 L284.70,234.53 L284.80,234.53 L284.90,234.53 L285.00,234.53 L285.10,234.53 L285.20,234.53 L285.30,234.53 L285.40,234.53 L285.50,234.53 L285.60,234.53 L285.70,234.53 L285.80,234.53 L285.90,234.53 L286.00,234.53 L286.10,234.53 L286.20,234.53 L286.30,234.53 L286.40,234.53 L286.50,234.53 L286.60,234.53 L286.70,234.53 L286.80,234.53 L286.90,234.53 L287.00,234.53 L287.10,234.53 L287.20,234.53 L287.30,234.53 L287.40,234.53 L287.50,234.53 L287.60,234.53 L287.70,234.53 L287.80,234.53 L287.90,234.53 L288.00,234.53 L288.10,234.53 L288.20,234.53 L288.30,234.53 L288.40,234.53 L288.50,234.53 L288.60,234.53 L288.70,234.53 L288.80,234.53 L288.90,234.53 L289.00,234.53 L289.10,234.53 L289.20,234.53 L289.30,234.53 L289.40,234.53 L289.50,234.53 L289.60,234.53 L289.70,234.53 L289.80,234.53 L289.90,234.53 L290.00,234.53 L290.10,234.53 L290.20,234.53 L290.30,234.53 L290.40,234.53 L290.50,234.53 L290.60,234.53 L290.70,234.53 L290.80,234.53 L290.90,234.53 L291.00,234.53 L291.10,234.52 L291.20,234.52 L291.30,234.52 L291.40,234.52 L291.50,234.52 L291.60,234.52 L291.70,234.52 L291.80,234.52 L291.90,234.52 L292.00,234.52 L292.10,234.52 L292.20,234.52 L292.30,234.52 L292.40,234.52 L292.50,234.52 L292.60,234.52 L292.70,234.52 L292.80,234.52 L292.90,234.52 L293.00,234.52 L293.10,234.52 L293.20,234.52 L293.30,234.52 L293.40,234.52 L293.50,234.52 L293.60,234.52 L293.70,234.52 L293.80,234.52 L293.90,234.52 L294.00,234.52 L294.10,234.52 L294.20,234.52 L294.30,234.52 L294.40,234.52 L294.50,234.52 L294.60,234.52 L294.70,234.52 L294.80,234.52 L294.90,234.52 L295.00,234.52 L295.10,234.52 L295.20,234.52 L295.30,234.52 L295.40,234.52 L295.50,234.52 L295.60,234.52 L295.70,234.52 L295.80,234.52 L295.90,234.52 L296.00,234.52 L296.10,234.52 L296.20,234.52 L296.30,234.52 L296.40,234.52 L296.50,234.52 L296.60,234.52 L296.70,234.52 L296.80,234.52 L296.90,234.52 L297.00,234.52 L297.10,234.52 L297.20,234.52 L297.30,234.52 L297.40,234.52 L297.50,234.52 L297.60,234.52 L297.70,234.52 L297.80,234.52 L297.90,234.52 L298.00,234.52 L298.10,234.52 L298.20,234.52 L298.30,234.52 L298.40,234.52 L298.50,234.52 L298.60,234.52 L298.70,234.52 L298.80,234.52 L298.90,234.52 L299.00,234.52 L299.10,234.52 L299.20,234.52 L299.30,234.52 L299.40,234.52 L299.50,234.52 L299.60,234.52 L299.70,234.52 L299.80,234.52 L299.90,234.52 L300.00,234.52 L300.10,234.52 L300.20,234.52 L300.30,234.52 L300.40,234.52 L300.50,234.52 L300.60,234.52 L300.70,234.52 L300.80,234.52 L300.90,234.52 L301.00,234.52 L301.10,234.52 L301.20,234.52 L301.30,234.52 L301.40,234.52 L301.50,234.52 L301.60,234.52 L301.70,234.52 L301.80,234.52 L301.90,234.52 L302.00,234.52 L302.10,234.52 L302.20,234.52 L302.30,234.52 L302.40,234.52 L302.50,234.52 L302.60,234.52 L302.70,234.52 L302.80,234.52 L302.90,234.52 L303.00,234.52 L303.10,234.52 L303.20,234.52 L303.30,234.52 L303.40,234.52 L303.50,234.52 L303.60,234.52 L303.70,234.52 L303.80,234.52 L303.90,234.52 L304.00,234.52 L304.10,234.52 L304.20,234.52 L304.30,234.52 L304.40,234.52 L304.50,234.52 L304.60,234.52 L304.70,234.52 L304.80,234.52 L304.90,234.52 L305.00,234.52 L305.10,234.52 L305.20,234.52 L305.30,234.52 L305.40,234.52 L305.50,234.52 L305.60,234.52 L305.70,234.52 L305.80,234.52 L305.90,234.52 L306.00,234.52 L306.10,234.52 L306.20,234.52 L306.30,234.52 L306.40,234.52 L306.50,234.52 L306.60,234.52 L306.70,234.52 L306.80,234.52 L306.90,234.52 L307.00,234.52 L307.10,234.52 L307.20,234.52 L307.30,234.52 L307.40,234.52 L307.50,234.52 L307.60,234.52 L307.70,234.52 L307.80,234.52 L307.90,234.51 L308.00,234.51 L308.10,234.51 L308.20,234.51 L308.30,234.51 L308.40,234.51 L308.50,234.51 L308.60,234.51 L308.70,234.51 L308.80,234.51 L308.90,234.51 L309.00,234.51 L309.10,234.51 L309.20,234.51 L309.30,234.51 L309.40,234.51 L309.50,234.51 L309.60,234.51 L309.70,234.51 L309.80,234.51 L309.90,234.51 L310.00,234.51 L310.10,234.51 L310.20,234.51 L310.30,234.51 L310.40,234.51 L310.50,234.51 L310.60,234.51 L310.70,234.51 L310.80,234.51 L310.90,234.51 L311.00,234.51 L311.10,234.51 L311.20,234.51 L311.30,234.51 L311.40,234.51 L311.50,234.51 L311.60,234.50 L311.70,234.50 L311.80,234.50 L311.90,234.50 L312.00,234.50 L312.10,234.50 L312.20,234.50 L312.30,234.50 L312.40,234.50 L312.50,234.50 L312.60,234.50 L312.70,234.50 L312.80,234.50 L312.90,234.50 L313.00,234.49 L313.10,234.49 L313.20,234.49 L313.30,234.49 L313.40,234.49 L313.50,234.49 L313.60,234.49 L313.70,234.49 L313.80,234.48 L313.90,234.48 L314.00,234.48 L314.10,234.48 L314.20,234.48 L314.30,234.48 L314.40,234.47 L314.50,234.47 L314.60,234.47 L314.70,234.46 L314.80,234.46 L314.90,234.46 L315.00,234.45 L315.10,234.45 L315.20,234.44 L315.30,234.44 L315.40,234.43 L315.50,234.43 L315.60,234.42 L315.70,234.41 L315.80,234.40 L315.90,234.39 L316.00,234.38 L316.10,234.37 L316.20,234.35 L316.30,234.34 L316.40,234.31 L316.50,234.29 L316.60,234.26 L316.70,234.23 L316.80,234.19 L316.90,234.14 L317.00,234.07 L317.10,233.99 L317.20,233.89 L317.30,233.75 L317.40,233.57 L317.50,233.30 L317.60,232.88 L317.70,232.21 L317.80,231.13 L317.90,229.45 L318.00,227.11 L318.10,224.56 L318.20,223.32 L318.30,224.56 L318.40,227.11 L318.50,229.45 L318.60,231.13 L318.70,232.21 L318.80,232.88 L318.90,233.30 L319.00,233.56 L319.10,233.75 L319.20,233.89 L319.30,233.99 L319.40,234.07 L319.50,234.13 L319.60,234.19 L319.70,234.23 L319.80,234.26 L319.90,234.29 L320.00,234.31 L320.10,234.33 L320.20,234.35 L320.30,234.37 L320.40,234.38 L320.50,234.39 L320.60,234.40 L320.70,234.41 L320.80,234.42 L320.90,234.43 L321.00,234.43 L321.10,234.44 L321.20,234.44 L321.30,234.45 L321.40,234.45 L321.50,234.46 L321.60,234.46 L321.70,234.46 L321.80,234.47 L321.90,234.47 L322.00,234.47 L322.10,234.47 L322.20,234.48 L322.30,234.48 L322.40,234.48 L322.50,234.48 L322.60,234.48 L322.70,234.48 L322.80,234.49 L322.90,234.49 L323.00,234.49 L323.10,234.49 L323.20,234.49 L323.30,234.49 L323.40,234.49 L323.50,234.49 L323.60,234.49 L323.70,234.49 L323.80,234.50 L323.90,234.50 L324.00,234.50 L324.10,234.50 L324.20,234.50 L324.30,234.50 L324.40,234.50 L324.50,234.50 L324.60,234.50 L324.70,234.50 L324.80,234.50 L324.90,234.50 L325.00,234.50 L325.10,234.50 L325.20,234.50 L325.30,234.50 L325.40,234.50 L325.50,234.50 L325.60,234.50 L325.70,234.50 L325.80,234.50 L325.90,234.50 L326.00,234.50 L326.10,234.50 L326.20,234.51 L326.30,234.51 L326.40,234.51 L326.50,234.51 L326.60,234.51 L326.70,234.51 L326.80,234.51 L326.90,234.51 L327.00,234.51 L327.10,234.51 L327.20,234.51 L327.30,234.51 L327.40,234.51 L327.50,234.51 L327.60,234.51 L327.70,234.51 L327.80,234.51 L327.90,234.51 L328.00,234.51 L328.10,234.51 L328.20,234.51 L328.30,234.51 L328.40,234.51 L328.50,234.51 L328.60,234.51 L328.70,234.51 L328.80,234.51 L328.90,234.51 L329.00,234.51 L329.10,234.51 L329.20,234.51 L329.30,234.51 L329.40,234.51 L329.50,234.51 L329.60,234.51 L329.70,234.51 L329.80,234.51 L329.90,234.51 L330.00,234.51 L330.10,234.51 L330.20,234.51 L330.30,234.51 L330.40,234.51 L330.50,234.51 L330.60,234.51 L330.70,234.51 L330.80,234.51 L330.90,234.51 L331.00,234.51 L331.10,234.51 L331.20,234.51 L331.30,234.51 L331.40,234.51 L331.50,234.51 L331.60,234.51 L331.70,234.51 L331.80,234.51 L331.90,234.51 L332.00,234.51 L332.10,234.51 L332.20,234.51 L332.30,234.51 L332.40,234.51 L332.50,234.51 L332.60,234.51 L332.70,234.51 L332.80,234.51 L332.90,234.51 L333.00,234.51 L333.10,234.51 L333.20,234.51 L333.30,234.51 L333.40,234.51 L333.50,234.51 L333.60,234.51 L333.70,234.51 L333.80,234.51 L333.90,234.51 L334.00,234.51 L334.10,234.51 L334.20,234.51 L334.30,234.51 L334.40,234.51 L334.50,234.51 L334.60,234.51 L334.70,234.51 L334.80,234.51 L334.90,234.51 L335.00,234.51 L335.10,234.51 L335.20,234.51 L335.30,234.51 L335.40,234.51 L335.50,234.51 L335.60,234.51 L335.70,234.51 L335.80,234.51 L335.90,234.51 L336.00,234.51 L336.10,234.51 L336.20,234.51 L336.30,234.51 L336.40,234.50 L336.50,234.50 L336.60,234.50 L336.70,234.50 L336.80,234.50 L336.90,234.50 L337.00,234.50 L337.10,234.50 L337.20,234.50 L337.30,234.50 L337.40,234.50 L337.50,234.50 L337.60,234.50 L337.70,234.50 L337.80,234.50 L337.90,234.50 L338.00,234.50 L338.10,234.50 L338.20,234.50 L338.30,234.49 L338.40,234.49 L338.50,234.49 L338.60,234.49 L338.70,234.49 L338.80,234.49 L338.90,234.49 L339.00,234.48 L339.10,234.48 L339.20,234.48 L339.30,234.48 L339.40,234.47 L339.50,234.47 L339.60,234.46 L339.70,234.46 L339.80,234.45 L339.90,234.44 L340.00,234.44 L340.10,234.43 L340.20,234.41 L340.30,234.40 L340.40,234.37 L340.50,234.35 L340.60,234.31 L340.70,234.26 L340.80,234.19 L340.90,234.09 L341.00,233.91 L341.10,233.63 L341.20,233.20 L341.30,232.59 L341.40,231.93 L341.50,231.61 L341.60,231.93 L341.70,232.59 L341.80,233.20 L341.90,233.63 L342.00,233.91 L342.10,234.09 L342.20,234.19 L342.30,234.26 L342.40,234.31 L342.50,234.35 L342.60,234.37 L342.70,234.40 L342.80,234.41 L342.90,234.42 L343.00,234.44 L343.10,234.44 L343.20,234.45 L343.30,234.46 L343.40,234.46 L343.50,234.47 L343.60,234.47 L343.70,234.47 L343.80,234.48 L343.90,234.48 L344.00,234.48 L344.10,234.48 L344.20,234.49 L344.30,234.49 L344.40,234.49 L344.50,234.49 L344.60,234.49 L344.70,234.49 L344.80,234.49 L344.90,234.50 L345.00,234.50 L345.10,234.50 L345.20,234.50 L345.30,234.50 L345.40,234.50 L345.50,234.50 L345.60,234.50 L345.70,234.50 L345.80,234.50 L345.90,234.50 L346.00,234.50 L346.10,234.50 L346.20,234.50 L346.30,234.50 L346.40,234.50 L346.50,234.50 L346.60,234.50 L346.70,234.50 L346.80,234.50 L346.90,234.50 L347.00,234.50 L347.10,234.50 L347.20,234.50 L347.30,234.50 L347.40,234.50 L347.50,234.51 L347.60,234.51 L347.70,234.51 L347.80,234.51 L347.90,234.51 L348.00,234.51 L348.10,234.51 L348.20,234.51 L348.30,234.51 L348.40,234.51 L348.50,234.51 L348.60,234.51 L348.70,234.51 L348.80,234.51 L348.90,234.51 L349.00,234.51 L349.10,234.51 L349.20,234.51 L349.30,234.51 L349.40,234.51 L349.50,234.51 L349.60,234.51 L349.70,234.51 L349.80,234.51 L349.90,234.51 L350.00,234.51 L350.10,234.51 L350.20,234.51 L350.30,234.51 L350.40,234.51 L350.50,234.51 L350.60,234.51 L350.70,234.51 L350.80,234.51 L350.90,234.51 L351.00,234.51 L351.10,234.51 L351.20,234.51 L351.30,234.51 L351.40,234.51 L351.50,234.51 L351.60,234.51 L351.70,234.51 L351.80,234.51 L351.90,234.51 L352.00,234.51 L352.10,234.51 L352.20,234.51 L352.30,234.51 L352.40,234.51 L352.50,234.51 L352.60,234.51 L352.70,234.51 L352.80,234.51 L352.90,234.51 L353.00,234.51 L353.10,234.51 L353.20,234.51 L353.30,234.51 L353.40,234.51 L353.50,234.51 L353.60,234.51 L353.70,234.51 L353.80,234.51 L353.90,234.51 L354.00,234.51 L354.10,234.51 L354.20,234.51 L354.30,234.51 L354.40,234.51 L354.50,234.51 L354.60,234.51 L354.70,234.51 L354.80,234.51 L354.90,234.51 L355.00,234.51 L355.10,234.51 L355.20,234.51 L355.30,234.51 L355.40,234.51 L355.50,234.51 L355.60,234.51 L355.70,234.51 L355.80,234.51 L355.90,234.51 L356.00,234.51 L356.10,234.51 L356.20,234.51 L356.30,234.51 L356.40,234.51 L356.50,234.51 L356.60,234.51 L356.70,234.51 L356.80,234.51 L356.90,234.51 L357.00,234.51 L357.10,234.51 L357.20,234.51 L357.30,234.51 L357.40,234.51 L357.50,234.51 L357.60,234.51 L357.70,234.51 L357.80,234.51 L357.90,234.51 L358.00,234.51 L358.10,234.51 L358.20,234.51 L358.30,234.51 L358.40,234.51 L358.50,234.51 L358.60,234.51 L358.70,234.51 L358.80,234.51 L358.90,234.51 L359.00,234.51 L359.10,234.51 L359.20,234.51 L359.30,234.51 L359.40,234.51 L359.50,234.51 L359.60,234.51 L359.70,234.51 L359.80,234.51 L359.90,234.51 L360.00,234.51 L360.10,234.51 L360.20,234.51 L360.30,234.51 L360.40,234.51 L360.50,234.51 L360.60,234.51 L360.70,234.51 L360.80,234.51 L360.90,234.51 L361.00,234.51 L361.10,234.51 L361.20,234.51 L361.30,234.51 L361.40,234.51 L361.50,234.51 L361.60,234.51 L361.70,234.51 L361.80,234.51 L361.90,234.51 L362.00,234.51 L362.10,234.51 L362.20,234.51 L362.30,234.51 L362.40,234.51 L362.50,234.51 L362.60,234.51 L362.70,234.51 L362.80,234.51 L362.90,234.51 L363.00,234.51 L363.10,234.51 L363.20,234.51 L363.30,234.51 L363.40,234.51 L363.50,234.51 L363.60,234.51 L363.70,234.51 L363.80,234.51 L363.90,234.51 L364.00,234.51 L364.10,234.51 L364.20,234.51 L364.30,234.51 L364.40,234.51 L364.50,234.51 L364.60,234.51 L364.70,234.51 L364.80,234.51 L364.90,234.51 L365.00,234.51 L365.10,234.51 L365.20,234.51 L365.30,234.51 L365.40,234.51 L365.50,234.51 L365.60,234.51 L365.70,234.51 L365.80,234.51 L365.90,234.51 L366.00,234.50 L366.10,234.50 L366.20,234.50 L366.30,234.50 L366.40,234.50 L366.50,234.50 L366.60,234.50 L366.70,234.50 L366.80,234.50 L366.90,234.50 L367.00,234.50 L367.10,234.50 L367.20,234.50 L367.30,234.50 L367.40,234.50 L367.50,234.50 L367.60,234.50 L367.70,234.50 L367.80,234.50 L367.90,234.50 L368.00,234.50 L368.10,234.50 L368.20,234.50 L368.30,234.50 L368.40,234.50 L368.50,234.50 L368.60,234.50 L368.70,234.50 L368.80,234.50 L368.90,234.50 L369.00,234.50 L369.10,234.50 L369.20,234.50 L369.30,234.50 L369.40,234.50 L369.50,234.50 L369.60,234.50 L369.70,234.50 L369.80,234.50 L369.90,234.50 L370.00,234.50 L370.10,234.50 L370.20,234.50 L370.30,234.50 L370.40,234.50 L370.50,234.50 L370.60,234.50 L370.70,234.50 L370.80,234.50 L370.90,234.50 L371.00,234.50 L371.10,234.50 L371.20,234.50 L371.30,234.50 L371.40,234.50 L371.50,234.50 L371.60,234.50 L371.70,234.50 L371.80,234.50 L371.90,234.50 L372.00,234.50 L372.10,234.50 L372.20,234.50 L372.30,234.50 L372.40,234.50 L372.50,234.50 L372.60,234.50 L372.70,234.50 L372.80,234.50 L372.90,234.50 L373.00,234.50 L373.10,234.50 L373.20,234.50 L373.30,234.50 L373.40,234.50 L373.50,234.50 L373.60,234.50 L373.70,234.50 L373.80,234.50 L373.90,234.50 L374.00,234.50 L374.10,234.50 L374.20,234.50 L374.30,234.50 L374.40,234.50 L374.50,234.50 L374.60,234.50 L374.70,234.50 L374.80,234.50 L374.90,234.50 L375.00,234.50 L375.10,234.50 L375.20,234.50 L375.30,234.50 L375.40,234.50 L375.50,234.50 L375.60,234.50 L375.70,234.50 L375.80,234.50 L375.90,234.50 L376.00,234.50 L376.10,234.50 L376.20,234.50 L376.30,234.50 L376.40,234.50 L376.50,234.50 L376.60,234.50 L376.70,234.50 L376.80,234.50 L376.90,234.50 L377.00,234.50 L377.10,234.50 L377.20,234.50 L377.30,234.50 L377.40,234.50 L377.50,234.50 L377.60,234.50 L377.70,234.50 L377.80,234.50 L377.90,234.50 L378.00,234.50 L378.10,234.50 L378.20,234.50 L378.30,234.50 L378.40,234.50 L378.50,234.50 L378.60,234.50 L378.70,234.50 L378.80,234.50 L378.90,234.50 L379.00,234.50 L379.10,234.50 L379.20,234.50 L379.30,234.50 L379.40,234.50 L379.50,234.50 L379.60,234.50 L379.70,234.50 L379.80,234.50 L379.90,234.50 L380.00,234.50 L380.10,234.50 L380.20,234.50 L380.30,234.50 L380.40,234.50 L380.50,234.50 L380.60,234.50 L380.70,234.50 L380.80,234.50 L380.90,234.50 L381.00,234.50 L381.10,234.50 L381.20,234.50 L381.30,234.50 L381.40,234.50 L381.50,234.50 L381.60,234.50 L381.70,234.50 L381.80,234.50 L381.90,234.50 L382.00,234.50 L382.10,234.50 L382.20,234.50 L382.30,234.50 L382.40,234.50 L382.50,234.50 L382.60,234.50 L382.70,234.50 L382.80,234.50 L382.90,234.50 L383.00,234.50 L383.10,234.50 L383.20,234.50 L383.30,234.50 L383.40,234.50 L383.50,234.50 L383.60,234.50 L383.70,234.50 L383.80,234.50 L383.90,234.50 L384.00,234.50 L384.10,234.50 L384.20,234.50 L384.30,234.50 L384.40,234.50 L384.50,234.50 L384.60,234.50 L384.70,234.50 L384.80,234.50 L384.90,234.50 L385.00,234.50 L385.10,234.50 L385.20,234.50 L385.30,234.50 L385.40,234.50 L385.50,234.50 L385.60,234.50 L385.70,234.50 L385.80,234.50 L385.90,234.50 L386.00,234.50 L386.10,234.50 L386.20,234.50 L386.30,234.50 L386.40,234.50 L386.50,234.50" fill="none" stroke="#de102a" stroke-width="1.05" stroke-linejoin="round"/>
<rect x="26.5" y="1.5" width="360.0" height="242.0" fill="none" stroke="#303030" stroke-width="1.3"/>
<g stroke="#1a1a1a" stroke-width="1">
<line x1="56.5" y1="243.5" x2="56.5" y2="237.7"/>
<line x1="116.5" y1="243.5" x2="116.5" y2="237.7"/>
<line x1="176.5" y1="243.5" x2="176.5" y2="237.7"/>
<line x1="236.5" y1="243.5" x2="236.5" y2="237.7"/>
<line x1="296.5" y1="243.5" x2="296.5" y2="237.7"/>
<line x1="356.5" y1="243.5" x2="356.5" y2="237.7"/>
<line x1="86.5" y1="243.5" x2="86.5" y2="240.3"/>
<line x1="146.5" y1="243.5" x2="146.5" y2="240.3"/>
<line x1="206.5" y1="243.5" x2="206.5" y2="240.3"/>
<line x1="266.5" y1="243.5" x2="266.5" y2="240.3"/>
<line x1="326.5" y1="243.5" x2="326.5" y2="240.3"/>
<line x1="54.3" y1="243.5" x2="54.3" y2="237.7"/>
<line x1="95.4" y1="243.5" x2="95.4" y2="237.7"/>
<line x1="130.4" y1="243.5" x2="130.4" y2="237.7"/>
<line x1="245.4" y1="243.5" x2="245.4" y2="237.7"/>
<line x1="318.0" y1="243.5" x2="318.0" y2="237.7"/>
<line x1="341.4" y1="243.5" x2="341.4" y2="237.7"/>
</g>
<text x="56.9" y="259.7" font-size="13" text-anchor="middle">30</text>
<text x="116.9" y="259.7" font-size="13" text-anchor="middle">40</text>
<text x="176.9" y="259.7" font-size="13" text-anchor="middle">50</text>
<text x="236.9" y="259.7" font-size="13" text-anchor="middle">60</text>
<text x="296.9" y="259.7" font-size="13" text-anchor="middle">70</text>
<text x="356.9" y="259.7" font-size="13" text-anchor="middle">80</text>
<text y="282.5" font-size="18"><tspan x="100.8" textLength="124.0" lengthAdjust="spacingAndGlyphs">Diffraction angle</tspan> <tspan x="228.9" textLength="18.5" lengthAdjust="spacingAndGlyphs">2θ</tspan> <tspan x="251.6" textLength="60.0" lengthAdjust="spacingAndGlyphs">(degree)</tspan></text>
<text transform="translate(14.0,155.2) rotate(-90)" font-size="17.5" textLength="61.2" lengthAdjust="spacingAndGlyphs">Intensity</text>
<text transform="translate(65.5,32.6) rotate(-90)" font-size="11.3" textLength="24.5" lengthAdjust="spacingAndGlyphs">(110)</text>
<text transform="translate(110.0,32.3) rotate(-90)" font-size="11.3" textLength="24.5" lengthAdjust="spacingAndGlyphs">(111)</text>
<text transform="translate(141.4,37.6) rotate(-90)" font-size="11.3" textLength="24.5" lengthAdjust="spacingAndGlyphs">(200)</text>
<text transform="translate(256.5,44.7) rotate(-90)" font-size="11.3" textLength="24.5" lengthAdjust="spacingAndGlyphs">(220)</text>
<text transform="translate(328.8,44.7) rotate(-90)" font-size="11.3" textLength="24.5" lengthAdjust="spacingAndGlyphs">(311)</text>
<text transform="translate(353.3,44.7) rotate(-90)" font-size="11.3" textLength="24.5" lengthAdjust="spacingAndGlyphs">(222)</text>
<text x="160.3" y="44.6" font-size="11.0" textLength="57.0" lengthAdjust="spacingAndGlyphs">Cu<tspan font-size="6.60" dy="3.96">2</tspan><tspan dy="-3.96">O-NCs-5</tspan></text>
<text x="160.3" y="89.1" font-size="11.0" textLength="56.6" lengthAdjust="spacingAndGlyphs">Cu<tspan font-size="6.60" dy="3.96">2</tspan><tspan dy="-3.96">O-NCs-1</tspan></text>
<text x="153.6" y="135.1" font-size="11.85" textLength="70.1" lengthAdjust="spacingAndGlyphs">Cu<tspan font-size="7.11" dy="4.27">2</tspan><tspan dy="-4.27">O-NCs-0.2</tspan></text>
<text x="157.6" y="181.2" font-size="12.0" textLength="61.9" lengthAdjust="spacingAndGlyphs">Cu<tspan font-size="7.20" dy="4.32">2</tspan><tspan dy="-4.32">O-NCs-0</tspan></text>
<text x="153.6" y="225.5" font-size="11.05" textLength="68.5" lengthAdjust="spacingAndGlyphs">Cu<tspan font-size="6.63" dy="3.98">2</tspan><tspan dy="-3.98">O reference</tspan></text>
</svg></body></html>
